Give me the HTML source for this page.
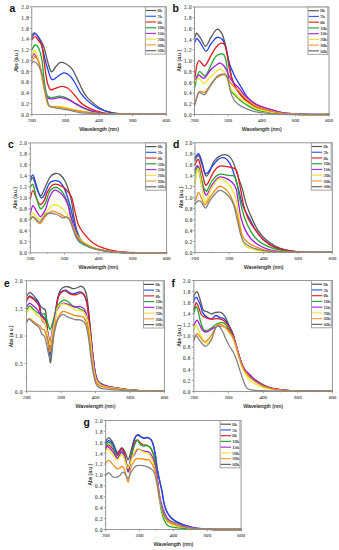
<!DOCTYPE html>
<html><head><meta charset="utf-8"><style>
html,body{margin:0;padding:0;background:#fff;width:339px;height:550px;overflow:hidden}
svg{display:block}
.tk{font-family:"Liberation Serif",serif;font-size:5.2px;fill:#4a4a4a;stroke:#4a4a4a;stroke-width:0.12px;letter-spacing:0.5px}
.tx{font-family:"Liberation Serif",serif;font-size:5.0px;fill:#4a4a4a;stroke:#4a4a4a;stroke-width:0.1px;letter-spacing:0.1px}
.al{font-family:"Liberation Sans",sans-serif;font-size:5.25px;fill:#222;stroke:#222;stroke-width:0.12px}
.yl{font-family:"Liberation Sans",sans-serif;font-size:5.0px;fill:#222;stroke:#222;stroke-width:0.1px}
.lt{font-family:"Liberation Sans",sans-serif;font-size:10.4px;font-weight:bold;fill:#111}
.lg{font-family:"Liberation Serif",serif;font-size:4.7px;fill:#333;stroke:#333;stroke-width:0.1px;letter-spacing:-0.15px}
</style></head><body>
<svg width="339" height="550" viewBox="0 0 339 550">
<g fill="none" stroke-width="1.3" stroke-linejoin="round" stroke-linecap="round">
<path d="M31.80,35.85 C32.19,35.31 33.20,32.62 34.15,32.62 C35.11,32.62 36.40,34.51 37.52,35.85 C38.64,37.20 39.87,38.99 40.88,40.69 C41.89,42.40 42.73,43.79 43.57,46.07 C44.41,48.36 45.14,51.45 45.92,54.41 C46.71,57.37 47.49,61.09 48.28,63.83 C49.06,66.56 49.90,69.57 50.63,70.82 C51.36,72.08 51.81,72.03 52.65,71.36 C53.49,70.69 54.38,68.27 55.67,66.79 C56.96,65.31 58.76,63.02 60.38,62.48 C62.01,61.95 63.46,62.44 65.42,63.56 C67.39,64.68 70.19,66.65 72.15,69.21 C74.11,71.76 75.51,75.48 77.19,78.89 C78.88,82.30 80.67,86.69 82.24,89.65 C83.81,92.61 84.76,94.40 86.61,96.65 C88.46,98.89 91.15,101.22 93.33,103.10 C95.52,104.98 97.26,106.51 99.72,107.94 C102.19,109.38 105.38,110.79 108.13,111.71 C110.87,112.63 113.23,113.08 116.20,113.49 C119.17,113.89 121.52,113.98 125.95,114.13 C130.38,114.28 136.04,114.36 142.76,114.40 C149.49,114.44 162.38,114.40 166.30,114.40" stroke="#5a5a5a"/>
<path d="M31.80,37.47 C32.36,36.84 33.93,33.43 35.16,33.70 C36.40,33.97 37.96,36.57 39.20,39.08 C40.43,41.59 41.44,44.82 42.56,48.76 C43.68,52.71 44.97,59.08 45.92,62.75 C46.88,66.43 47.49,68.31 48.28,70.82 C49.06,73.33 49.79,76.34 50.63,77.82 C51.47,79.30 52.20,79.88 53.32,79.70 C54.44,79.52 55.62,77.86 57.36,76.74 C59.09,75.62 61.67,73.15 63.74,72.97 C65.82,72.79 67.83,73.87 69.80,75.66 C71.76,77.46 73.72,80.86 75.51,83.73 C77.31,86.60 78.71,90.19 80.56,92.88 C82.41,95.57 84.48,97.81 86.61,99.87 C88.74,101.94 91.15,103.73 93.33,105.25 C95.52,106.78 97.26,107.90 99.72,109.02 C102.19,110.14 105.38,111.23 108.13,111.98 C110.87,112.72 112.67,113.12 116.20,113.49 C119.73,113.85 124.89,114.03 129.31,114.18 C133.74,114.34 136.60,114.36 142.76,114.40 C148.93,114.44 162.38,114.40 166.30,114.40" stroke="#2440f2"/>
<path d="M31.80,39.89 C32.36,39.34 33.93,36.34 35.16,36.61 C36.40,36.87 38.09,40.10 39.20,41.50 C40.30,42.90 41.06,42.44 41.79,45.00 C42.52,47.55 42.88,51.90 43.57,56.83 C44.26,61.77 45.23,70.10 45.92,74.59 C46.61,79.07 46.92,81.20 47.70,83.73 C48.49,86.27 49.47,89.01 50.63,89.81 C51.79,90.62 52.82,89.14 54.66,88.58 C56.51,88.01 59.60,86.51 61.73,86.42 C63.86,86.33 65.42,86.74 67.44,88.04 C69.46,89.34 71.65,91.80 73.83,94.23 C76.02,96.65 78.37,100.46 80.56,102.56 C82.74,104.67 84.82,105.66 86.94,106.87 C89.07,108.08 91.20,108.98 93.33,109.83 C95.46,110.68 97.26,111.37 99.72,111.98 C102.19,112.59 104.88,113.12 108.13,113.49 C111.38,113.85 114.01,114.03 119.22,114.18 C124.44,114.34 131.55,114.36 139.40,114.40 C147.25,114.44 161.82,114.40 166.30,114.40" stroke="#e01c1c"/>
<path d="M31.80,49.84 C32.36,49.03 33.99,45.22 35.16,45.00 C36.34,44.77 37.76,46.16 38.86,48.49 C39.97,50.83 41.00,54.64 41.79,58.99 C42.57,63.33 42.97,69.66 43.57,74.59 C44.17,79.52 44.78,85.08 45.38,88.58 C45.99,92.07 46.33,94.05 47.20,95.57 C48.07,97.09 49.50,97.45 50.63,97.72 C51.76,97.99 52.48,97.45 53.99,97.18 C55.51,96.91 57.75,96.02 59.71,96.11 C61.67,96.20 63.69,96.83 65.76,97.72 C67.83,98.62 69.68,100.01 72.15,101.49 C74.62,102.97 78.09,105.25 80.56,106.60 C83.02,107.94 84.82,108.71 86.94,109.56 C89.07,110.41 91.20,111.10 93.33,111.71 C95.46,112.32 97.09,112.82 99.72,113.22 C102.36,113.61 104.77,113.88 109.14,114.08 C113.51,114.27 116.42,114.35 125.95,114.40 C135.48,114.45 159.58,114.40 166.30,114.40" stroke="#20a82a"/>
<path d="M31.80,57.37 C32.14,56.79 33.15,54.05 33.82,53.88 C34.49,53.70 35.11,55.18 35.84,56.30 C36.56,57.42 37.40,58.36 38.19,60.60 C38.97,62.84 39.76,66.16 40.54,69.75 C41.33,73.33 42.11,78.26 42.90,82.12 C43.68,85.98 44.52,90.28 45.25,92.88 C45.98,95.48 46.37,96.74 47.27,97.72 C48.16,98.71 49.40,98.66 50.63,98.80 C51.86,98.93 53.15,98.71 54.66,98.53 C56.18,98.35 57.58,97.59 59.71,97.72 C61.84,97.86 65.09,98.53 67.44,99.34 C69.80,100.14 71.65,101.40 73.83,102.56 C76.02,103.73 78.37,105.25 80.56,106.33 C82.74,107.41 84.82,108.17 86.94,109.02 C89.07,109.87 91.20,110.77 93.33,111.44 C95.46,112.11 97.09,112.62 99.72,113.06 C102.36,113.49 104.77,113.85 109.14,114.08 C113.51,114.30 116.42,114.35 125.95,114.40 C135.48,114.45 159.58,114.40 166.30,114.40" stroke="#a818e0"/>
<path d="M31.80,55.76 C32.19,54.95 33.54,51.63 34.15,50.92 C34.77,50.20 34.91,50.29 35.50,51.45 C36.09,52.62 36.92,55.04 37.68,57.91 C38.45,60.78 39.32,64.90 40.11,68.67 C40.89,72.44 41.61,76.56 42.39,80.51 C43.18,84.45 44.01,88.62 44.81,92.34 C45.61,96.06 46.42,100.59 47.20,102.83 C47.98,105.07 48.58,105.21 49.49,105.79 C50.39,106.37 51.06,106.24 52.65,106.33 C54.24,106.42 56.57,106.06 59.04,106.33 C61.50,106.60 64.70,107.35 67.44,107.94 C70.19,108.54 72.26,109.16 75.51,109.88 C78.76,110.60 83.02,111.63 86.94,112.25 C90.87,112.87 94.79,113.26 99.05,113.59 C103.31,113.92 101.29,114.10 112.50,114.24 C123.71,114.37 157.33,114.37 166.30,114.40" stroke="#ece828"/>
<path d="M31.80,60.60 C32.19,60.06 33.65,58.00 34.15,57.37 C34.66,56.74 34.14,56.34 34.83,56.83 C35.52,57.33 37.31,58.36 38.29,60.33 C39.27,62.30 39.93,65.13 40.71,68.67 C41.50,72.21 42.22,77.28 43.00,81.58 C43.78,85.89 44.60,90.73 45.38,94.49 C46.17,98.26 46.89,102.16 47.70,104.18 C48.52,106.20 49.02,106.15 50.29,106.60 C51.57,107.05 53.66,106.73 55.34,106.87 C57.02,107.00 57.58,106.91 60.38,107.41 C63.18,107.90 67.72,109.02 72.15,109.83 C76.58,110.63 82.46,111.62 86.94,112.25 C91.43,112.88 94.79,113.26 99.05,113.59 C103.31,113.92 101.29,114.10 112.50,114.24 C123.71,114.37 157.33,114.37 166.30,114.40" stroke="#f58a1c"/>
<path d="M31.80,63.02 C32.10,62.80 32.64,61.45 33.62,61.68 C34.60,61.90 36.40,62.66 37.68,64.37 C38.97,66.07 40.23,68.49 41.32,71.90 C42.40,75.31 43.33,80.64 44.21,84.81 C45.09,88.98 45.81,93.51 46.59,96.92 C47.38,100.32 47.96,103.51 48.92,105.25 C49.87,107.00 50.40,106.85 52.31,107.41 C54.22,107.96 57.64,108.12 60.38,108.59 C63.13,109.06 65.71,109.57 68.79,110.20 C71.87,110.84 75.85,111.91 78.88,112.41 C81.90,112.91 83.58,112.97 86.94,113.22 C90.31,113.46 94.23,113.68 99.05,113.86 C103.87,114.04 104.65,114.20 115.86,114.29 C127.07,114.38 157.89,114.38 166.30,114.40" stroke="#828282"/>
</g>
<rect x="31.80" y="6.80" width="134.50" height="107.60" fill="none" stroke="#8a8a8a" stroke-width="0.9"/>
<line x1="29.80" y1="114.40" x2="31.80" y2="114.40" stroke="#8a8a8a" stroke-width="0.8"/>
<text x="29.30" y="116.70" class="tk" text-anchor="end">0.0</text>
<line x1="30.80" y1="109.02" x2="31.80" y2="109.02" stroke="#8a8a8a" stroke-width="0.7"/>
<line x1="29.80" y1="103.64" x2="31.80" y2="103.64" stroke="#8a8a8a" stroke-width="0.8"/>
<text x="29.30" y="105.94" class="tk" text-anchor="end">0.2</text>
<line x1="30.80" y1="98.26" x2="31.80" y2="98.26" stroke="#8a8a8a" stroke-width="0.7"/>
<line x1="29.80" y1="92.88" x2="31.80" y2="92.88" stroke="#8a8a8a" stroke-width="0.8"/>
<text x="29.30" y="95.18" class="tk" text-anchor="end">0.4</text>
<line x1="30.80" y1="87.50" x2="31.80" y2="87.50" stroke="#8a8a8a" stroke-width="0.7"/>
<line x1="29.80" y1="82.12" x2="31.80" y2="82.12" stroke="#8a8a8a" stroke-width="0.8"/>
<text x="29.30" y="84.42" class="tk" text-anchor="end">0.6</text>
<line x1="30.80" y1="76.74" x2="31.80" y2="76.74" stroke="#8a8a8a" stroke-width="0.7"/>
<line x1="29.80" y1="71.36" x2="31.80" y2="71.36" stroke="#8a8a8a" stroke-width="0.8"/>
<text x="29.30" y="73.66" class="tk" text-anchor="end">0.8</text>
<line x1="30.80" y1="65.98" x2="31.80" y2="65.98" stroke="#8a8a8a" stroke-width="0.7"/>
<line x1="29.80" y1="60.60" x2="31.80" y2="60.60" stroke="#8a8a8a" stroke-width="0.8"/>
<text x="29.30" y="62.90" class="tk" text-anchor="end">1.0</text>
<line x1="30.80" y1="55.22" x2="31.80" y2="55.22" stroke="#8a8a8a" stroke-width="0.7"/>
<line x1="29.80" y1="49.84" x2="31.80" y2="49.84" stroke="#8a8a8a" stroke-width="0.8"/>
<text x="29.30" y="52.14" class="tk" text-anchor="end">1.2</text>
<line x1="30.80" y1="44.46" x2="31.80" y2="44.46" stroke="#8a8a8a" stroke-width="0.7"/>
<line x1="29.80" y1="39.08" x2="31.80" y2="39.08" stroke="#8a8a8a" stroke-width="0.8"/>
<text x="29.30" y="41.38" class="tk" text-anchor="end">1.4</text>
<line x1="30.80" y1="33.70" x2="31.80" y2="33.70" stroke="#8a8a8a" stroke-width="0.7"/>
<line x1="29.80" y1="28.32" x2="31.80" y2="28.32" stroke="#8a8a8a" stroke-width="0.8"/>
<text x="29.30" y="30.62" class="tk" text-anchor="end">1.6</text>
<line x1="30.80" y1="22.94" x2="31.80" y2="22.94" stroke="#8a8a8a" stroke-width="0.7"/>
<line x1="29.80" y1="17.56" x2="31.80" y2="17.56" stroke="#8a8a8a" stroke-width="0.8"/>
<text x="29.30" y="19.86" class="tk" text-anchor="end">1.8</text>
<line x1="30.80" y1="12.18" x2="31.80" y2="12.18" stroke="#8a8a8a" stroke-width="0.7"/>
<line x1="29.80" y1="6.80" x2="31.80" y2="6.80" stroke="#8a8a8a" stroke-width="0.8"/>
<text x="29.30" y="9.10" class="tk" text-anchor="end">2.0</text>
<line x1="31.80" y1="114.40" x2="31.80" y2="116.20" stroke="#8a8a8a" stroke-width="0.8"/>
<text x="31.95" y="122.00" class="tx" text-anchor="middle">200</text>
<line x1="48.61" y1="114.40" x2="48.61" y2="115.40" stroke="#8a8a8a" stroke-width="0.7"/>
<line x1="65.42" y1="114.40" x2="65.42" y2="116.20" stroke="#8a8a8a" stroke-width="0.8"/>
<text x="65.58" y="122.00" class="tx" text-anchor="middle">300</text>
<line x1="82.24" y1="114.40" x2="82.24" y2="115.40" stroke="#8a8a8a" stroke-width="0.7"/>
<line x1="99.05" y1="114.40" x2="99.05" y2="116.20" stroke="#8a8a8a" stroke-width="0.8"/>
<text x="99.20" y="122.00" class="tx" text-anchor="middle">400</text>
<line x1="115.86" y1="114.40" x2="115.86" y2="115.40" stroke="#8a8a8a" stroke-width="0.7"/>
<line x1="132.68" y1="114.40" x2="132.68" y2="116.20" stroke="#8a8a8a" stroke-width="0.8"/>
<text x="132.83" y="122.00" class="tx" text-anchor="middle">500</text>
<line x1="149.49" y1="114.40" x2="149.49" y2="115.40" stroke="#8a8a8a" stroke-width="0.7"/>
<line x1="166.30" y1="114.40" x2="166.30" y2="116.20" stroke="#8a8a8a" stroke-width="0.8"/>
<text x="166.45" y="122.00" class="tx" text-anchor="middle">600</text>
<text x="99.05" y="130.90" class="al" text-anchor="middle">Wavelength (nm)</text>
<text transform="translate(18.10,61.00) rotate(-90)" class="yl" text-anchor="middle">Abs (a.u.)</text>
<text x="9.60" y="11.60" class="lt">a</text>
<rect x="145.30" y="6.90" width="19.80" height="47.20" fill="#fff" stroke="#999" stroke-width="0.9"/>
<line x1="145.70" y1="10.50" x2="156.20" y2="10.50" stroke="#555555" stroke-width="1.2"/>
<text x="157.50" y="12.20" class="lg">0h</text>
<line x1="145.70" y1="16.24" x2="156.20" y2="16.24" stroke="#3060f0" stroke-width="1.2"/>
<text x="157.50" y="17.94" class="lg">2h</text>
<line x1="145.70" y1="21.98" x2="156.20" y2="21.98" stroke="#e03030" stroke-width="1.2"/>
<text x="157.50" y="23.68" class="lg">6h</text>
<line x1="145.70" y1="27.72" x2="156.20" y2="27.72" stroke="#30a040" stroke-width="1.2"/>
<text x="157.50" y="29.42" class="lg">10h</text>
<line x1="145.70" y1="33.46" x2="156.20" y2="33.46" stroke="#b030e0" stroke-width="1.2"/>
<text x="157.50" y="35.16" class="lg">15h</text>
<line x1="145.70" y1="39.20" x2="156.20" y2="39.20" stroke="#f0e040" stroke-width="1.2"/>
<text x="157.50" y="40.90" class="lg">20h</text>
<line x1="145.70" y1="44.94" x2="156.20" y2="44.94" stroke="#f8a040" stroke-width="1.2"/>
<text x="157.50" y="46.64" class="lg">30h</text>
<line x1="145.70" y1="50.68" x2="156.20" y2="50.68" stroke="#666666" stroke-width="1.2"/>
<text x="157.50" y="52.38" class="lg">50h</text>
<g fill="none" stroke-width="1.3" stroke-linejoin="round" stroke-linecap="round">
<path d="M194.50,38.17 C194.67,37.73 195.12,36.29 195.51,35.49 C195.90,34.68 196.01,32.89 196.85,33.34 C197.69,33.79 199.10,36.02 200.55,38.17 C202.01,40.32 203.94,46.24 205.60,46.24 C207.26,46.24 208.88,40.77 210.51,38.17 C212.13,35.58 214.04,32.13 215.35,30.65 C216.66,29.17 217.25,28.77 218.37,29.31 C219.49,29.84 221.12,32.09 222.07,33.88 C223.03,35.66 223.36,37.47 224.09,40.00 C224.82,42.54 225.77,46.05 226.44,49.09 C227.12,52.12 227.56,55.20 228.12,58.22 C228.69,61.24 229.19,63.91 229.81,67.20 C230.42,70.49 230.96,74.81 231.82,77.95 C232.69,81.09 233.64,83.41 234.98,86.01 C236.33,88.61 238.18,91.30 239.89,93.54 C241.61,95.78 242.64,97.21 245.27,99.45 C247.91,101.69 251.72,105.00 255.70,106.97 C259.68,108.95 264.78,110.20 269.15,111.28 C273.52,112.35 276.43,112.89 281.93,113.42 C287.42,113.96 294.25,114.32 302.10,114.50 C309.95,114.68 324.52,114.50 329.00,114.50" stroke="#5a5a5a"/>
<path d="M194.50,43.01 C194.67,42.56 195.09,41.08 195.51,40.33 C195.92,39.57 196.15,38.05 196.99,38.50 C197.83,38.95 199.06,40.92 200.55,43.01 C202.04,45.11 204.27,50.81 205.93,51.08 C207.59,51.34 208.94,46.72 210.51,44.62 C212.07,42.53 213.98,39.72 215.35,38.50 C216.71,37.28 217.48,37.06 218.71,37.31 C219.94,37.57 221.74,38.78 222.75,40.00 C223.75,41.22 224.09,42.66 224.76,44.62 C225.44,46.59 226.05,48.76 226.78,51.77 C227.51,54.78 228.15,59.34 229.13,62.69 C230.12,66.03 231.72,69.46 232.70,71.82 C233.67,74.19 234.23,75.41 234.98,76.88 C235.74,78.34 236.07,78.76 237.20,80.64 C238.34,82.52 240.47,85.89 241.81,88.16 C243.16,90.44 243.91,92.32 245.27,94.29 C246.64,96.26 248.24,98.36 249.98,99.99 C251.72,101.62 253.74,102.91 255.70,104.07 C257.66,105.24 259.51,106.13 261.75,106.97 C263.99,107.82 266.35,108.32 269.15,109.12 C271.95,109.93 275.31,111.10 278.56,111.81 C281.81,112.53 284.73,113.02 288.65,113.42 C292.57,113.83 295.38,114.05 302.10,114.23 C308.83,114.41 324.52,114.46 329.00,114.50" stroke="#2440f2"/>
<path d="M194.50,77.95 C194.61,77.59 194.78,77.95 195.17,75.80 C195.56,73.65 196.20,67.56 196.85,65.05 C197.51,62.54 198.27,61.02 199.11,60.75 C199.95,60.48 200.90,62.59 201.90,63.44 C202.90,64.29 203.66,67.02 205.09,65.86 C206.53,64.69 208.80,59.41 210.51,56.45 C212.21,53.49 213.76,50.27 215.35,48.12 C216.94,45.97 218.68,44.31 220.06,43.55 C221.43,42.79 222.72,43.08 223.62,43.55 C224.52,44.02 224.82,44.41 225.44,46.40 C226.05,48.39 226.67,52.00 227.28,55.48 C227.90,58.97 228.38,63.52 229.13,67.31 C229.89,71.10 230.85,75.01 231.82,78.22 C232.80,81.43 233.64,83.91 234.98,86.55 C236.33,89.19 238.18,91.84 239.89,94.08 C241.61,96.31 242.64,97.80 245.27,99.99 C247.91,102.17 251.72,105.31 255.70,107.19 C259.68,109.07 264.78,110.24 269.15,111.28 C273.52,112.31 276.43,112.89 281.93,113.42 C287.42,113.96 294.25,114.32 302.10,114.50 C309.95,114.68 324.52,114.50 329.00,114.50" stroke="#e01c1c"/>
<path d="M194.50,87.62 C194.61,87.27 194.72,87.45 195.17,85.47 C195.62,83.50 196.46,78.13 197.19,75.80 C197.92,73.47 198.65,71.77 199.54,71.50 C200.44,71.23 201.56,73.47 202.57,74.19 C203.58,74.90 204.42,76.79 205.60,75.80 C206.77,74.81 208.26,71.01 209.63,68.28 C211.00,65.54 212.57,61.56 213.80,59.41 C215.03,57.26 215.99,56.26 217.03,55.37 C218.07,54.49 218.96,54.23 220.06,54.08 C221.15,53.94 222.64,53.53 223.62,54.51 C224.59,55.50 225.29,57.57 225.91,60.00 C226.52,62.43 226.83,65.90 227.28,69.08 C227.74,72.26 228.10,75.59 228.63,79.08 C229.16,82.56 229.42,87.31 230.48,89.99 C231.54,92.67 233.42,93.48 234.98,95.15 C236.55,96.82 238.18,98.50 239.89,99.99 C241.61,101.47 242.64,102.46 245.27,104.07 C247.91,105.69 251.72,108.28 255.70,109.66 C259.68,111.04 264.78,111.63 269.15,112.35 C273.52,113.07 276.43,113.60 281.93,113.96 C287.42,114.32 294.25,114.41 302.10,114.50 C309.95,114.59 324.52,114.50 329.00,114.50" stroke="#20a82a"/>
<path d="M194.50,81.17 C194.61,81.00 194.50,81.09 195.17,80.10 C195.85,79.11 197.53,75.80 198.53,75.26 C199.54,74.73 200.22,76.43 201.22,76.88 C202.23,77.32 202.93,79.23 204.59,77.95 C206.24,76.67 208.87,71.56 211.14,69.19 C213.41,66.81 216.72,64.70 218.21,63.71 C219.69,62.71 219.15,62.93 220.06,63.22 C220.96,63.52 222.55,64.35 223.62,65.48 C224.68,66.61 225.52,68.18 226.44,70.00 C227.36,71.81 227.96,74.28 229.13,76.39 C230.31,78.51 231.85,80.71 233.50,82.68 C235.16,84.65 237.13,86.03 239.09,88.22 C241.05,90.40 242.51,93.15 245.27,95.80 C248.04,98.44 251.72,101.85 255.70,104.07 C259.68,106.29 265.34,107.84 269.15,109.12 C272.96,110.41 275.31,111.10 278.56,111.81 C281.81,112.53 284.73,113.02 288.65,113.42 C292.57,113.83 295.38,114.05 302.10,114.23 C308.83,114.41 324.52,114.46 329.00,114.50" stroke="#a818e0"/>
<path d="M194.50,82.25 C194.61,82.07 194.50,81.80 195.17,81.17 C195.85,80.55 197.53,78.58 198.53,78.49 C199.54,78.40 200.22,79.83 201.22,80.64 C202.23,81.44 202.85,84.13 204.59,83.33 C206.32,82.52 209.38,78.08 211.65,75.80 C213.92,73.52 216.80,70.79 218.21,69.67 C219.61,68.55 219.15,68.79 220.06,69.08 C220.96,69.37 222.50,70.02 223.62,71.39 C224.74,72.76 225.86,75.27 226.78,77.31 C227.70,79.34 228.37,81.48 229.13,83.59 C229.90,85.71 230.41,88.33 231.39,89.99 C232.36,91.65 233.57,92.14 234.98,93.54 C236.40,94.94 238.18,97.05 239.89,98.38 C241.61,99.70 242.64,99.85 245.27,101.49 C247.91,103.13 251.72,106.49 255.70,108.21 C259.68,109.93 264.78,110.90 269.15,111.81 C273.52,112.73 276.43,113.25 281.93,113.69 C287.42,114.14 294.25,114.37 302.10,114.50 C309.95,114.63 324.52,114.50 329.00,114.50" stroke="#ece828"/>
<path d="M194.50,103.75 C194.61,103.45 194.50,103.80 195.17,101.92 C195.85,100.04 197.41,94.17 198.53,92.46 C199.66,90.75 200.80,91.75 201.90,91.66 C202.99,91.57 203.11,93.85 205.09,91.92 C207.08,90.00 211.31,82.77 213.80,80.10 C216.29,77.43 218.28,76.84 220.06,75.91 C221.83,74.98 223.22,74.28 224.43,74.51 C225.63,74.74 226.35,76.09 227.28,77.31 C228.21,78.52 228.80,80.15 230.01,81.82 C231.21,83.49 233.15,85.89 234.51,87.30 C235.88,88.72 236.42,88.56 238.21,90.31 C240.01,92.07 242.36,95.29 245.27,97.84 C248.19,100.38 251.72,103.47 255.70,105.58 C259.68,107.68 264.78,109.21 269.15,110.47 C273.52,111.73 276.43,112.48 281.93,113.16 C287.42,113.83 294.25,114.28 302.10,114.50 C309.95,114.72 324.52,114.50 329.00,114.50" stroke="#f58a1c"/>
<path d="M194.50,105.90 C194.61,105.54 194.50,105.90 195.17,103.75 C195.85,101.60 197.41,94.70 198.53,93.00 C199.66,91.30 200.80,93.32 201.90,93.54 C202.99,93.75 203.66,95.62 205.09,94.29 C206.53,92.96 208.52,88.55 210.51,85.58 C212.49,82.62 215.44,78.34 217.03,76.50 C218.62,74.65 218.65,74.84 220.06,74.51 C221.46,74.18 224.16,73.75 225.44,74.51 C226.71,75.27 227.07,77.25 227.69,79.08 C228.30,80.91 228.72,83.66 229.13,85.47 C229.54,87.29 229.64,88.20 230.14,89.99 C230.65,91.78 231.35,94.38 232.16,96.22 C232.97,98.07 233.70,99.54 234.98,101.06 C236.27,102.59 238.18,104.17 239.89,105.36 C241.61,106.55 242.64,107.14 245.27,108.21 C247.91,109.29 251.72,110.94 255.70,111.81 C259.68,112.68 264.78,113.02 269.15,113.42 C273.52,113.83 276.43,114.05 281.93,114.23 C287.42,114.41 294.25,114.46 302.10,114.50 C309.95,114.54 324.52,114.50 329.00,114.50" stroke="#828282"/>
</g>
<rect x="194.50" y="7.00" width="134.50" height="107.50" fill="none" stroke="#8a8a8a" stroke-width="0.9"/>
<line x1="192.50" y1="114.50" x2="194.50" y2="114.50" stroke="#8a8a8a" stroke-width="0.8"/>
<text x="192.00" y="116.80" class="tk" text-anchor="end">0.0</text>
<line x1="193.50" y1="109.12" x2="194.50" y2="109.12" stroke="#8a8a8a" stroke-width="0.7"/>
<line x1="192.50" y1="103.75" x2="194.50" y2="103.75" stroke="#8a8a8a" stroke-width="0.8"/>
<text x="192.00" y="106.05" class="tk" text-anchor="end">0.2</text>
<line x1="193.50" y1="98.38" x2="194.50" y2="98.38" stroke="#8a8a8a" stroke-width="0.7"/>
<line x1="192.50" y1="93.00" x2="194.50" y2="93.00" stroke="#8a8a8a" stroke-width="0.8"/>
<text x="192.00" y="95.30" class="tk" text-anchor="end">0.4</text>
<line x1="193.50" y1="87.62" x2="194.50" y2="87.62" stroke="#8a8a8a" stroke-width="0.7"/>
<line x1="192.50" y1="82.25" x2="194.50" y2="82.25" stroke="#8a8a8a" stroke-width="0.8"/>
<text x="192.00" y="84.55" class="tk" text-anchor="end">0.6</text>
<line x1="193.50" y1="76.88" x2="194.50" y2="76.88" stroke="#8a8a8a" stroke-width="0.7"/>
<line x1="192.50" y1="71.50" x2="194.50" y2="71.50" stroke="#8a8a8a" stroke-width="0.8"/>
<text x="192.00" y="73.80" class="tk" text-anchor="end">0.8</text>
<line x1="193.50" y1="66.12" x2="194.50" y2="66.12" stroke="#8a8a8a" stroke-width="0.7"/>
<line x1="192.50" y1="60.75" x2="194.50" y2="60.75" stroke="#8a8a8a" stroke-width="0.8"/>
<text x="192.00" y="63.05" class="tk" text-anchor="end">1.0</text>
<line x1="193.50" y1="55.38" x2="194.50" y2="55.38" stroke="#8a8a8a" stroke-width="0.7"/>
<line x1="192.50" y1="50.00" x2="194.50" y2="50.00" stroke="#8a8a8a" stroke-width="0.8"/>
<text x="192.00" y="52.30" class="tk" text-anchor="end">1.2</text>
<line x1="193.50" y1="44.62" x2="194.50" y2="44.62" stroke="#8a8a8a" stroke-width="0.7"/>
<line x1="192.50" y1="39.25" x2="194.50" y2="39.25" stroke="#8a8a8a" stroke-width="0.8"/>
<text x="192.00" y="41.55" class="tk" text-anchor="end">1.4</text>
<line x1="193.50" y1="33.87" x2="194.50" y2="33.87" stroke="#8a8a8a" stroke-width="0.7"/>
<line x1="192.50" y1="28.50" x2="194.50" y2="28.50" stroke="#8a8a8a" stroke-width="0.8"/>
<text x="192.00" y="30.80" class="tk" text-anchor="end">1.6</text>
<line x1="193.50" y1="23.12" x2="194.50" y2="23.12" stroke="#8a8a8a" stroke-width="0.7"/>
<line x1="192.50" y1="17.75" x2="194.50" y2="17.75" stroke="#8a8a8a" stroke-width="0.8"/>
<text x="192.00" y="20.05" class="tk" text-anchor="end">1.8</text>
<line x1="193.50" y1="12.38" x2="194.50" y2="12.38" stroke="#8a8a8a" stroke-width="0.7"/>
<line x1="192.50" y1="7.00" x2="194.50" y2="7.00" stroke="#8a8a8a" stroke-width="0.8"/>
<text x="192.00" y="9.30" class="tk" text-anchor="end">2.0</text>
<line x1="194.50" y1="114.50" x2="194.50" y2="116.30" stroke="#8a8a8a" stroke-width="0.8"/>
<text x="194.65" y="122.10" class="tx" text-anchor="middle">200</text>
<line x1="211.31" y1="114.50" x2="211.31" y2="115.50" stroke="#8a8a8a" stroke-width="0.7"/>
<line x1="228.12" y1="114.50" x2="228.12" y2="116.30" stroke="#8a8a8a" stroke-width="0.8"/>
<text x="228.28" y="122.10" class="tx" text-anchor="middle">300</text>
<line x1="244.94" y1="114.50" x2="244.94" y2="115.50" stroke="#8a8a8a" stroke-width="0.7"/>
<line x1="261.75" y1="114.50" x2="261.75" y2="116.30" stroke="#8a8a8a" stroke-width="0.8"/>
<text x="261.90" y="122.10" class="tx" text-anchor="middle">400</text>
<line x1="278.56" y1="114.50" x2="278.56" y2="115.50" stroke="#8a8a8a" stroke-width="0.7"/>
<line x1="295.38" y1="114.50" x2="295.38" y2="116.30" stroke="#8a8a8a" stroke-width="0.8"/>
<text x="295.52" y="122.10" class="tx" text-anchor="middle">500</text>
<line x1="312.19" y1="114.50" x2="312.19" y2="115.50" stroke="#8a8a8a" stroke-width="0.7"/>
<line x1="329.00" y1="114.50" x2="329.00" y2="116.30" stroke="#8a8a8a" stroke-width="0.8"/>
<text x="329.15" y="122.10" class="tx" text-anchor="middle">600</text>
<text x="261.75" y="131.00" class="al" text-anchor="middle">Wavelength (nm)</text>
<text transform="translate(181.30,60.70) rotate(-90)" class="yl" text-anchor="middle">Abs (a.u.)</text>
<text x="172.50" y="11.50" class="lt">b</text>
<rect x="308.00" y="7.10" width="19.80" height="47.20" fill="#fff" stroke="#999" stroke-width="0.9"/>
<line x1="308.40" y1="10.70" x2="318.90" y2="10.70" stroke="#555555" stroke-width="1.2"/>
<text x="320.20" y="12.40" class="lg">0h</text>
<line x1="308.40" y1="16.44" x2="318.90" y2="16.44" stroke="#3060f0" stroke-width="1.2"/>
<text x="320.20" y="18.14" class="lg">2h</text>
<line x1="308.40" y1="22.18" x2="318.90" y2="22.18" stroke="#e03030" stroke-width="1.2"/>
<text x="320.20" y="23.88" class="lg">6h</text>
<line x1="308.40" y1="27.92" x2="318.90" y2="27.92" stroke="#30a040" stroke-width="1.2"/>
<text x="320.20" y="29.62" class="lg">10h</text>
<line x1="308.40" y1="33.66" x2="318.90" y2="33.66" stroke="#b030e0" stroke-width="1.2"/>
<text x="320.20" y="35.36" class="lg">15h</text>
<line x1="308.40" y1="39.40" x2="318.90" y2="39.40" stroke="#f0e040" stroke-width="1.2"/>
<text x="320.20" y="41.10" class="lg">20h</text>
<line x1="308.40" y1="45.14" x2="318.90" y2="45.14" stroke="#f8a040" stroke-width="1.2"/>
<text x="320.20" y="46.84" class="lg">30h</text>
<line x1="308.40" y1="50.88" x2="318.90" y2="50.88" stroke="#666666" stroke-width="1.2"/>
<text x="320.20" y="52.58" class="lg">50h</text>
<g fill="none" stroke-width="1.3" stroke-linejoin="round" stroke-linecap="round">
<path d="M30.30,181.37 C30.69,180.73 31.94,177.57 32.62,177.57 C33.30,177.57 33.71,179.52 34.39,181.37 C35.07,183.21 35.77,186.33 36.71,188.62 C37.64,190.91 39.15,194.11 40.01,195.10 C40.87,196.09 40.97,196.00 41.89,194.55 C42.80,193.11 44.08,189.42 45.50,186.42 C46.92,183.42 48.76,178.68 50.40,176.53 C52.05,174.38 53.73,173.78 55.38,173.51 C57.03,173.23 58.63,173.55 60.29,174.88 C61.94,176.21 63.76,178.45 65.30,181.47 C66.83,184.50 68.39,189.42 69.49,193.01 C70.58,196.60 71.13,199.00 71.87,203.02 C72.61,207.03 73.12,212.63 73.92,217.08 C74.71,221.53 75.68,226.24 76.64,229.72 C77.61,233.20 78.35,235.63 79.71,237.96 C81.07,240.30 82.61,242.08 84.82,243.73 C87.03,245.38 89.99,246.76 93.00,247.85 C96.01,248.95 99.30,249.64 102.88,250.33 C106.46,251.01 109.52,251.56 114.47,251.98 C119.41,252.39 123.84,252.66 132.52,252.80 C141.21,252.94 160.92,252.80 166.60,252.80" stroke="#5a5a5a"/>
<path d="M30.30,178.67 C30.73,178.04 32.15,174.71 32.89,174.88 C33.63,175.05 34.09,177.79 34.73,179.72 C35.37,181.64 36.02,184.13 36.71,186.42 C37.39,188.71 38.09,191.55 38.82,193.45 C39.55,195.36 40.25,197.48 41.10,197.85 C41.95,198.22 42.52,198.11 43.93,195.65 C45.34,193.20 47.68,185.63 49.59,183.12 C51.49,180.61 53.60,180.73 55.38,180.60 C57.16,180.46 58.76,180.92 60.29,182.30 C61.81,183.68 63.26,186.27 64.51,188.89 C65.76,191.51 66.69,194.56 67.78,198.01 C68.88,201.47 70.18,205.97 71.09,209.61 C72.00,213.25 72.31,216.11 73.23,219.83 C74.16,223.55 75.56,228.81 76.64,231.92 C77.72,235.03 78.35,236.54 79.71,238.51 C81.07,240.48 82.61,242.18 84.82,243.73 C87.03,245.29 89.99,246.76 93.00,247.85 C96.01,248.95 99.30,249.64 102.88,250.33 C106.46,251.01 109.52,251.56 114.47,251.98 C119.41,252.39 123.84,252.66 132.52,252.80 C141.21,252.94 160.92,252.80 166.60,252.80" stroke="#2440f2"/>
<path d="M30.30,198.95 C30.73,197.58 31.82,190.71 32.89,190.71 C33.96,190.71 35.52,196.66 36.71,198.95 C37.89,201.24 38.73,204.26 40.01,204.44 C41.29,204.63 43.21,202.06 44.41,200.05 C45.61,198.03 45.79,194.89 47.20,192.36 C48.62,189.82 50.98,186.08 52.89,184.83 C54.81,183.57 56.75,184.29 58.68,184.83 C60.62,185.37 62.71,186.56 64.51,188.07 C66.31,189.58 68.26,192.26 69.49,193.89 C70.71,195.52 71.05,195.36 71.87,197.85 C72.69,200.34 73.31,204.35 74.39,208.84 C75.47,213.33 76.61,220.47 78.35,224.78 C80.08,229.08 82.38,231.64 84.82,234.67 C87.26,237.69 89.99,240.71 93.00,242.91 C96.01,245.11 99.30,246.54 102.88,247.85 C106.46,249.16 110.66,250.03 114.47,250.77 C118.27,251.50 121.00,251.91 125.71,252.25 C130.42,252.59 135.93,252.71 142.75,252.80 C149.56,252.89 162.62,252.80 166.60,252.80" stroke="#e01c1c"/>
<path d="M30.30,187.52 C30.69,186.97 31.94,183.97 32.62,184.22 C33.30,184.48 33.71,186.70 34.39,189.06 C35.07,191.42 35.68,195.10 36.71,198.40 C37.73,201.70 39.06,208.11 40.52,208.84 C41.99,209.57 43.99,205.70 45.50,202.80 C47.01,199.89 47.94,194.00 49.59,191.42 C51.23,188.84 53.60,187.58 55.38,187.30 C57.16,187.02 58.76,188.35 60.29,189.72 C61.81,191.08 63.13,192.87 64.51,195.49 C65.90,198.11 67.57,202.02 68.60,205.43 C69.63,208.85 69.91,212.49 70.68,215.98 C71.45,219.48 72.20,222.76 73.23,226.42 C74.27,230.09 75.84,235.31 76.91,237.96 C77.99,240.62 78.39,241.17 79.71,242.36 C81.03,243.55 82.61,244.10 84.82,245.11 C87.03,246.11 89.99,247.49 93.00,248.40 C96.01,249.32 99.30,249.98 102.88,250.60 C106.46,251.22 109.52,251.77 114.47,252.14 C119.41,252.51 123.84,252.69 132.52,252.80 C141.21,252.91 160.92,252.80 166.60,252.80" stroke="#20a82a"/>
<path d="M30.30,213.79 C30.73,212.41 31.82,205.91 32.89,205.54 C33.96,205.18 35.43,209.76 36.71,211.59 C37.98,213.42 39.06,216.90 40.52,216.53 C41.99,216.17 44.12,212.32 45.50,209.39 C46.88,206.46 47.42,202.08 48.80,198.95 C50.19,195.82 52.16,191.81 53.81,190.60 C55.46,189.39 57.04,190.74 58.68,191.70 C60.33,192.65 62.18,194.16 63.69,196.31 C65.21,198.46 66.76,201.79 67.78,204.61 C68.80,207.43 68.92,209.78 69.83,213.24 C70.74,216.69 72.10,221.66 73.23,225.33 C74.37,228.99 75.56,232.65 76.64,235.22 C77.72,237.78 78.35,239.25 79.71,240.71 C81.07,242.18 82.61,242.82 84.82,244.01 C87.03,245.20 89.99,246.80 93.00,247.85 C96.01,248.91 99.30,249.64 102.88,250.33 C106.46,251.01 109.52,251.56 114.47,251.98 C119.41,252.39 123.84,252.66 132.52,252.80 C141.21,252.94 160.92,252.80 166.60,252.80" stroke="#a818e0"/>
<path d="M30.30,216.92 C30.73,216.29 31.82,213.13 32.89,213.13 C33.96,213.13 35.43,215.82 36.71,216.92 C37.98,218.02 39.06,220.33 40.52,219.72 C41.99,219.11 43.57,215.62 45.50,213.24 C47.43,210.85 50.04,206.73 52.11,205.43 C54.18,204.13 55.97,204.74 57.90,205.43 C59.83,206.13 61.91,207.81 63.69,209.61 C65.48,211.40 67.08,213.46 68.60,216.20 C70.12,218.95 71.54,223.21 72.79,226.09 C74.04,228.98 74.86,231.31 76.10,233.51 C77.33,235.71 78.73,237.72 80.19,239.28 C81.64,240.85 82.68,241.57 84.82,242.91 C86.96,244.25 89.99,246.11 93.00,247.31 C96.01,248.50 99.30,249.30 102.88,250.05 C106.46,250.80 109.52,251.35 114.47,251.81 C119.41,252.27 123.84,252.64 132.52,252.80 C141.21,252.96 160.92,252.80 166.60,252.80" stroke="#ece828"/>
<path d="M30.30,220.21 C30.73,219.69 31.82,216.96 32.89,217.08 C33.96,217.20 35.43,219.86 36.71,220.93 C37.98,222.00 39.06,224.30 40.52,223.51 C41.99,222.72 43.57,218.25 45.50,216.20 C47.43,214.15 50.04,211.75 52.11,211.20 C54.18,210.65 55.97,212.07 57.90,212.91 C59.83,213.74 61.91,215.25 63.69,216.20 C65.48,217.16 67.24,217.26 68.60,218.62 C69.96,219.99 70.76,222.05 71.87,224.39 C72.98,226.74 73.89,230.07 75.28,232.69 C76.66,235.31 78.60,238.27 80.19,240.11 C81.78,241.95 82.68,242.44 84.82,243.73 C86.96,245.02 89.99,246.76 93.00,247.85 C96.01,248.95 99.30,249.64 102.88,250.33 C106.46,251.01 109.52,251.56 114.47,251.98 C119.41,252.39 123.84,252.66 132.52,252.80 C141.21,252.94 160.92,252.80 166.60,252.80" stroke="#f58a1c"/>
<path d="M30.30,219.12 C30.73,218.69 31.82,216.41 32.89,216.53 C33.96,216.65 35.52,218.91 36.71,219.83 C37.89,220.75 38.55,222.92 40.01,222.03 C41.48,221.14 43.77,215.97 45.50,214.50 C47.23,213.03 48.51,213.24 50.40,213.24 C52.30,213.24 54.79,213.74 56.88,214.50 C58.96,215.26 61.22,217.38 62.91,217.80 C64.60,218.21 65.77,216.42 67.00,216.97 C68.23,217.52 69.21,218.76 70.30,221.09 C71.40,223.43 72.47,228.08 73.58,230.98 C74.68,233.89 75.53,236.58 76.91,238.51 C78.30,240.45 80.00,241.30 81.89,242.58 C83.78,243.86 86.04,245.14 88.23,246.21 C90.42,247.27 92.60,248.22 95.04,248.95 C97.48,249.69 99.64,250.07 102.88,250.60 C106.12,251.13 109.52,251.77 114.47,252.14 C119.41,252.51 123.84,252.69 132.52,252.80 C141.21,252.91 160.92,252.80 166.60,252.80" stroke="#828282"/>
</g>
<rect x="30.30" y="142.90" width="136.30" height="109.90" fill="none" stroke="#8a8a8a" stroke-width="0.9"/>
<line x1="28.30" y1="252.80" x2="30.30" y2="252.80" stroke="#8a8a8a" stroke-width="0.8"/>
<text x="27.40" y="255.10" class="tk" text-anchor="end">0.0</text>
<line x1="29.30" y1="247.31" x2="30.30" y2="247.31" stroke="#8a8a8a" stroke-width="0.7"/>
<line x1="28.30" y1="241.81" x2="30.30" y2="241.81" stroke="#8a8a8a" stroke-width="0.8"/>
<text x="27.40" y="244.11" class="tk" text-anchor="end">0.2</text>
<line x1="29.30" y1="236.31" x2="30.30" y2="236.31" stroke="#8a8a8a" stroke-width="0.7"/>
<line x1="28.30" y1="230.82" x2="30.30" y2="230.82" stroke="#8a8a8a" stroke-width="0.8"/>
<text x="27.40" y="233.12" class="tk" text-anchor="end">0.4</text>
<line x1="29.30" y1="225.32" x2="30.30" y2="225.32" stroke="#8a8a8a" stroke-width="0.7"/>
<line x1="28.30" y1="219.83" x2="30.30" y2="219.83" stroke="#8a8a8a" stroke-width="0.8"/>
<text x="27.40" y="222.13" class="tk" text-anchor="end">0.6</text>
<line x1="29.30" y1="214.34" x2="30.30" y2="214.34" stroke="#8a8a8a" stroke-width="0.7"/>
<line x1="28.30" y1="208.84" x2="30.30" y2="208.84" stroke="#8a8a8a" stroke-width="0.8"/>
<text x="27.40" y="211.14" class="tk" text-anchor="end">0.8</text>
<line x1="29.30" y1="203.34" x2="30.30" y2="203.34" stroke="#8a8a8a" stroke-width="0.7"/>
<line x1="28.30" y1="197.85" x2="30.30" y2="197.85" stroke="#8a8a8a" stroke-width="0.8"/>
<text x="27.40" y="200.15" class="tk" text-anchor="end">1.0</text>
<line x1="29.30" y1="192.36" x2="30.30" y2="192.36" stroke="#8a8a8a" stroke-width="0.7"/>
<line x1="28.30" y1="186.86" x2="30.30" y2="186.86" stroke="#8a8a8a" stroke-width="0.8"/>
<text x="27.40" y="189.16" class="tk" text-anchor="end">1.2</text>
<line x1="29.30" y1="181.37" x2="30.30" y2="181.37" stroke="#8a8a8a" stroke-width="0.7"/>
<line x1="28.30" y1="175.87" x2="30.30" y2="175.87" stroke="#8a8a8a" stroke-width="0.8"/>
<text x="27.40" y="178.17" class="tk" text-anchor="end">1.4</text>
<line x1="29.30" y1="170.38" x2="30.30" y2="170.38" stroke="#8a8a8a" stroke-width="0.7"/>
<line x1="28.30" y1="164.88" x2="30.30" y2="164.88" stroke="#8a8a8a" stroke-width="0.8"/>
<text x="27.40" y="167.18" class="tk" text-anchor="end">1.6</text>
<line x1="29.30" y1="159.38" x2="30.30" y2="159.38" stroke="#8a8a8a" stroke-width="0.7"/>
<line x1="28.30" y1="153.89" x2="30.30" y2="153.89" stroke="#8a8a8a" stroke-width="0.8"/>
<text x="27.40" y="156.19" class="tk" text-anchor="end">1.8</text>
<line x1="29.30" y1="148.39" x2="30.30" y2="148.39" stroke="#8a8a8a" stroke-width="0.7"/>
<line x1="28.30" y1="142.90" x2="30.30" y2="142.90" stroke="#8a8a8a" stroke-width="0.8"/>
<text x="27.40" y="145.20" class="tk" text-anchor="end">2.0</text>
<line x1="30.30" y1="252.80" x2="30.30" y2="254.60" stroke="#8a8a8a" stroke-width="0.8"/>
<text x="30.45" y="260.40" class="tx" text-anchor="middle">200</text>
<line x1="47.34" y1="252.80" x2="47.34" y2="253.80" stroke="#8a8a8a" stroke-width="0.7"/>
<line x1="64.38" y1="252.80" x2="64.38" y2="254.60" stroke="#8a8a8a" stroke-width="0.8"/>
<text x="64.53" y="260.40" class="tx" text-anchor="middle">300</text>
<line x1="81.41" y1="252.80" x2="81.41" y2="253.80" stroke="#8a8a8a" stroke-width="0.7"/>
<line x1="98.45" y1="252.80" x2="98.45" y2="254.60" stroke="#8a8a8a" stroke-width="0.8"/>
<text x="98.60" y="260.40" class="tx" text-anchor="middle">400</text>
<line x1="115.49" y1="252.80" x2="115.49" y2="253.80" stroke="#8a8a8a" stroke-width="0.7"/>
<line x1="132.52" y1="252.80" x2="132.52" y2="254.60" stroke="#8a8a8a" stroke-width="0.8"/>
<text x="132.67" y="260.40" class="tx" text-anchor="middle">500</text>
<line x1="149.56" y1="252.80" x2="149.56" y2="253.80" stroke="#8a8a8a" stroke-width="0.7"/>
<line x1="166.60" y1="252.80" x2="166.60" y2="254.60" stroke="#8a8a8a" stroke-width="0.8"/>
<text x="166.75" y="260.40" class="tx" text-anchor="middle">600</text>
<text x="98.45" y="269.30" class="al" text-anchor="middle">Wavelength (nm)</text>
<text transform="translate(16.50,197.80) rotate(-90)" class="yl" text-anchor="middle">Abs (a.u.)</text>
<text x="8.00" y="148.00" class="lt">c</text>
<rect x="145.60" y="143.00" width="19.80" height="47.20" fill="#fff" stroke="#999" stroke-width="0.9"/>
<line x1="146.00" y1="146.60" x2="156.50" y2="146.60" stroke="#555555" stroke-width="1.2"/>
<text x="157.80" y="148.30" class="lg">0h</text>
<line x1="146.00" y1="152.34" x2="156.50" y2="152.34" stroke="#3060f0" stroke-width="1.2"/>
<text x="157.80" y="154.04" class="lg">2h</text>
<line x1="146.00" y1="158.08" x2="156.50" y2="158.08" stroke="#e03030" stroke-width="1.2"/>
<text x="157.80" y="159.78" class="lg">6h</text>
<line x1="146.00" y1="163.82" x2="156.50" y2="163.82" stroke="#30a040" stroke-width="1.2"/>
<text x="157.80" y="165.52" class="lg">10h</text>
<line x1="146.00" y1="169.56" x2="156.50" y2="169.56" stroke="#b030e0" stroke-width="1.2"/>
<text x="157.80" y="171.26" class="lg">15h</text>
<line x1="146.00" y1="175.30" x2="156.50" y2="175.30" stroke="#f0e040" stroke-width="1.2"/>
<text x="157.80" y="177.00" class="lg">20h</text>
<line x1="146.00" y1="181.04" x2="156.50" y2="181.04" stroke="#f8a040" stroke-width="1.2"/>
<text x="157.80" y="182.74" class="lg">30h</text>
<line x1="146.00" y1="186.78" x2="156.50" y2="186.78" stroke="#666666" stroke-width="1.2"/>
<text x="157.80" y="188.48" class="lg">50h</text>
<g fill="none" stroke-width="1.3" stroke-linejoin="round" stroke-linecap="round">
<path d="M195.00,160.34 C195.11,160.13 195.09,159.90 195.69,159.08 C196.29,158.25 197.52,154.44 198.60,155.40 C199.69,156.37 201.04,161.51 202.21,164.88 C203.38,168.25 204.53,174.26 205.64,175.63 C206.76,177.00 207.54,175.44 208.90,173.10 C210.26,170.77 212.16,164.35 213.81,161.60 C215.46,158.85 217.00,157.78 218.79,156.61 C220.57,155.44 222.73,154.58 224.52,154.58 C226.30,154.58 227.98,155.18 229.50,156.61 C231.01,158.04 232.39,160.44 233.62,163.19 C234.85,165.93 235.76,169.80 236.88,173.10 C237.99,176.41 239.35,180.22 240.31,183.02 C241.26,185.83 241.68,186.59 242.61,189.93 C243.54,193.27 244.51,198.70 245.90,203.08 C247.29,207.46 249.02,211.81 250.95,216.23 C252.88,220.65 255.01,225.71 257.47,229.60 C259.93,233.49 262.68,236.81 265.71,239.58 C268.74,242.34 272.35,244.50 275.66,246.21 C278.98,247.92 281.90,248.90 285.62,249.82 C289.34,250.75 293.63,251.31 297.98,251.74 C302.32,252.17 305.98,252.29 311.71,252.40 C317.43,252.51 328.87,252.40 332.30,252.40" stroke="#5a5a5a"/>
<path d="M195.00,158.14 C195.11,157.89 195.09,157.37 195.69,156.61 C196.29,155.85 197.65,153.05 198.60,153.60 C199.55,154.14 200.37,156.78 201.38,159.90 C202.40,163.01 203.75,170.08 204.71,172.28 C205.68,174.48 205.94,174.06 207.19,173.10 C208.43,172.15 210.23,168.87 212.16,166.53 C214.10,164.19 216.73,160.52 218.79,159.08 C220.85,157.63 222.88,157.45 224.52,157.87 C226.16,158.29 227.39,159.88 228.64,161.60 C229.89,163.31 230.89,165.42 232.00,168.17 C233.11,170.92 234.20,174.52 235.30,178.09 C236.40,181.66 237.49,185.46 238.59,189.60 C239.69,193.74 240.80,199.39 241.89,202.92 C242.97,206.44 243.78,207.98 245.11,210.75 C246.45,213.52 248.15,216.23 249.92,219.52 C251.69,222.81 253.41,227.01 255.76,230.48 C258.10,233.95 260.96,237.60 263.99,240.34 C267.03,243.08 270.34,245.28 273.95,246.92 C277.55,248.56 281.61,249.39 285.62,250.21 C289.62,251.03 293.63,251.49 297.98,251.85 C302.32,252.22 305.98,252.31 311.71,252.40 C317.43,252.49 328.87,252.40 332.30,252.40" stroke="#2440f2"/>
<path d="M195.00,164.72 C195.11,164.46 195.09,163.99 195.69,163.19 C196.29,162.38 197.52,158.24 198.60,159.90 C199.69,161.55 201.11,169.01 202.21,173.10 C203.31,177.20 204.22,182.79 205.19,184.45 C206.17,186.10 206.61,185.18 208.04,183.02 C209.48,180.87 211.88,174.32 213.81,171.52 C215.74,168.71 217.41,167.03 219.61,166.20 C221.81,165.37 224.66,166.20 226.99,166.53 C229.33,166.86 231.97,167.34 233.62,168.17 C235.26,169.00 235.91,169.04 236.88,171.52 C237.84,173.99 238.58,178.89 239.42,183.02 C240.25,187.15 241.19,192.58 241.89,196.28 C242.59,199.99 242.95,202.59 243.60,205.27 C244.26,207.96 244.86,209.84 245.80,212.40 C246.74,214.95 247.57,217.60 249.23,220.62 C250.89,223.63 253.30,227.19 255.76,230.48 C258.22,233.77 260.96,237.60 263.99,240.34 C267.03,243.08 270.34,245.28 273.95,246.92 C277.55,248.56 281.61,249.39 285.62,250.21 C289.62,251.03 293.63,251.49 297.98,251.85 C302.32,252.22 305.98,252.31 311.71,252.40 C317.43,252.49 328.87,252.40 332.30,252.40" stroke="#e01c1c"/>
<path d="M195.00,173.49 C195.11,173.16 195.09,172.68 195.69,171.52 C196.29,170.36 197.65,165.43 198.60,166.53 C199.55,167.62 200.50,174.51 201.38,178.09 C202.27,181.67 203.10,185.85 203.92,188.01 C204.75,190.17 205.78,190.61 206.33,191.02 C206.87,191.44 206.21,192.21 207.19,190.48 C208.16,188.74 210.23,183.29 212.16,180.61 C214.10,177.94 216.58,175.39 218.79,174.42 C221.00,173.45 223.50,174.60 225.41,174.80 C227.33,175.00 228.78,175.36 230.29,175.63 C231.80,175.89 233.38,175.16 234.47,176.39 C235.57,177.63 236.08,179.67 236.88,183.02 C237.68,186.38 238.32,191.75 239.28,196.50 C240.23,201.25 241.24,206.77 242.61,211.52 C243.98,216.27 245.58,220.84 247.52,225.00 C249.45,229.16 251.75,233.40 254.21,236.51 C256.67,239.61 258.99,241.62 262.28,243.63 C265.57,245.64 269.71,247.29 273.95,248.56 C278.18,249.84 282.53,250.66 287.68,251.30 C292.83,251.94 297.40,252.22 304.84,252.40 C312.28,252.58 327.72,252.40 332.30,252.40" stroke="#20a82a"/>
<path d="M195.00,170.20 C195.11,169.86 195.17,168.78 195.69,168.17 C196.20,167.56 197.14,164.05 198.09,166.53 C199.04,169.00 200.28,178.63 201.38,183.02 C202.49,187.42 203.75,190.96 204.71,192.89 C205.68,194.81 205.94,195.95 207.19,194.59 C208.43,193.23 210.23,187.61 212.16,184.72 C214.10,181.84 216.58,178.37 218.79,177.27 C221.00,176.16 223.21,177.27 225.41,178.09 C227.61,178.91 230.22,180.41 232.00,182.20 C233.78,183.99 235.01,185.35 236.09,188.83 C237.17,192.31 237.67,198.24 238.49,203.08 C239.31,207.92 239.89,213.46 241.00,217.88 C242.10,222.30 243.46,226.13 245.11,229.60 C246.77,233.07 248.62,236.09 250.95,238.70 C253.28,241.31 256.11,243.45 259.08,245.28 C262.06,247.10 265.18,248.61 268.80,249.66 C272.42,250.71 275.95,251.12 280.81,251.58 C285.68,252.03 289.39,252.26 297.98,252.40 C306.56,252.54 326.58,252.40 332.30,252.40" stroke="#a818e0"/>
<path d="M195.00,183.90 C195.11,183.44 195.17,183.78 195.69,181.16 C196.20,178.54 197.14,167.86 198.09,168.17 C199.04,168.48 200.41,177.94 201.38,183.02 C202.36,188.11 203.10,195.63 203.92,198.70 C204.75,201.76 205.24,202.90 206.33,201.44 C207.41,199.97 209.20,192.67 210.45,189.93 C211.69,187.19 212.42,186.83 213.81,185.00 C215.20,183.16 217.00,179.64 218.79,178.91 C220.57,178.18 222.60,179.38 224.52,180.61 C226.44,181.85 228.80,184.30 230.29,186.31 C231.77,188.32 232.48,190.42 233.44,192.67 C234.41,194.91 235.23,196.14 236.09,199.79 C236.95,203.45 237.77,209.62 238.59,214.59 C239.41,219.56 240.19,224.95 241.00,229.60 C241.80,234.26 242.48,239.65 243.40,242.54 C244.31,245.42 245.51,246.01 246.49,246.92 C247.46,247.83 247.13,247.38 249.23,248.02 C251.33,248.66 255.54,250.10 259.08,250.76 C262.63,251.41 266.32,251.69 270.51,251.96 C274.71,252.24 273.95,252.33 284.25,252.40 C294.54,252.47 324.29,252.40 332.30,252.40" stroke="#ece828"/>
<path d="M195.00,200.89 C195.11,200.71 195.09,201.21 195.69,199.79 C196.29,198.38 197.65,192.67 198.60,192.39 C199.55,192.12 200.29,196.09 201.38,198.15 C202.48,200.20 203.68,205.00 205.19,204.72 C206.70,204.45 208.18,199.52 210.45,196.50 C212.71,193.49 216.44,188.01 218.79,186.64 C221.13,185.27 222.73,187.06 224.52,188.28 C226.30,189.51 227.98,191.52 229.50,193.98 C231.01,196.45 232.39,199.92 233.62,203.08 C234.85,206.24 235.91,209.29 236.88,212.94 C237.84,216.60 238.46,221.11 239.42,225.00 C240.37,228.89 240.97,233.18 242.61,236.29 C244.24,239.39 246.49,241.68 249.23,243.63 C251.98,245.59 255.82,246.83 259.08,248.02 C262.35,249.20 265.18,250.10 268.80,250.76 C272.42,251.41 275.95,251.69 280.81,251.96 C285.68,252.24 289.39,252.33 297.98,252.40 C306.56,252.47 326.58,252.40 332.30,252.40" stroke="#f58a1c"/>
<path d="M195.00,204.18 C195.11,203.99 195.17,203.63 195.69,203.08 C196.20,202.53 197.14,201.07 198.09,200.89 C199.04,200.71 200.13,200.80 201.38,201.98 C202.64,203.17 204.13,208.38 205.64,208.01 C207.15,207.65 208.26,202.68 210.45,199.79 C212.64,196.91 216.44,191.93 218.79,190.70 C221.13,189.46 222.73,191.29 224.52,192.39 C226.30,193.50 227.98,195.27 229.50,197.33 C231.01,199.38 232.39,201.21 233.62,204.72 C234.85,208.24 235.70,213.45 236.88,218.42 C238.05,223.40 239.57,230.75 240.65,234.59 C241.74,238.43 241.97,239.48 243.40,241.44 C244.83,243.40 246.62,245.00 249.23,246.37 C251.85,247.74 255.54,248.79 259.08,249.66 C262.63,250.53 266.32,251.12 270.51,251.58 C274.71,252.03 273.95,252.26 284.25,252.40 C294.54,252.54 324.29,252.40 332.30,252.40" stroke="#828282"/>
</g>
<rect x="195.00" y="142.80" width="137.30" height="109.60" fill="none" stroke="#8a8a8a" stroke-width="0.9"/>
<line x1="193.00" y1="252.40" x2="195.00" y2="252.40" stroke="#8a8a8a" stroke-width="0.8"/>
<text x="192.90" y="254.70" class="tk" text-anchor="end">0.0</text>
<line x1="194.00" y1="246.92" x2="195.00" y2="246.92" stroke="#8a8a8a" stroke-width="0.7"/>
<line x1="193.00" y1="241.44" x2="195.00" y2="241.44" stroke="#8a8a8a" stroke-width="0.8"/>
<text x="192.90" y="243.74" class="tk" text-anchor="end">0.2</text>
<line x1="194.00" y1="235.96" x2="195.00" y2="235.96" stroke="#8a8a8a" stroke-width="0.7"/>
<line x1="193.00" y1="230.48" x2="195.00" y2="230.48" stroke="#8a8a8a" stroke-width="0.8"/>
<text x="192.90" y="232.78" class="tk" text-anchor="end">0.4</text>
<line x1="194.00" y1="225.00" x2="195.00" y2="225.00" stroke="#8a8a8a" stroke-width="0.7"/>
<line x1="193.00" y1="219.52" x2="195.00" y2="219.52" stroke="#8a8a8a" stroke-width="0.8"/>
<text x="192.90" y="221.82" class="tk" text-anchor="end">0.6</text>
<line x1="194.00" y1="214.04" x2="195.00" y2="214.04" stroke="#8a8a8a" stroke-width="0.7"/>
<line x1="193.00" y1="208.56" x2="195.00" y2="208.56" stroke="#8a8a8a" stroke-width="0.8"/>
<text x="192.90" y="210.86" class="tk" text-anchor="end">0.8</text>
<line x1="194.00" y1="203.08" x2="195.00" y2="203.08" stroke="#8a8a8a" stroke-width="0.7"/>
<line x1="193.00" y1="197.60" x2="195.00" y2="197.60" stroke="#8a8a8a" stroke-width="0.8"/>
<text x="192.90" y="199.90" class="tk" text-anchor="end">1.0</text>
<line x1="194.00" y1="192.12" x2="195.00" y2="192.12" stroke="#8a8a8a" stroke-width="0.7"/>
<line x1="193.00" y1="186.64" x2="195.00" y2="186.64" stroke="#8a8a8a" stroke-width="0.8"/>
<text x="192.90" y="188.94" class="tk" text-anchor="end">1.2</text>
<line x1="194.00" y1="181.16" x2="195.00" y2="181.16" stroke="#8a8a8a" stroke-width="0.7"/>
<line x1="193.00" y1="175.68" x2="195.00" y2="175.68" stroke="#8a8a8a" stroke-width="0.8"/>
<text x="192.90" y="177.98" class="tk" text-anchor="end">1.4</text>
<line x1="194.00" y1="170.20" x2="195.00" y2="170.20" stroke="#8a8a8a" stroke-width="0.7"/>
<line x1="193.00" y1="164.72" x2="195.00" y2="164.72" stroke="#8a8a8a" stroke-width="0.8"/>
<text x="192.90" y="167.02" class="tk" text-anchor="end">1.6</text>
<line x1="194.00" y1="159.24" x2="195.00" y2="159.24" stroke="#8a8a8a" stroke-width="0.7"/>
<line x1="193.00" y1="153.76" x2="195.00" y2="153.76" stroke="#8a8a8a" stroke-width="0.8"/>
<text x="192.90" y="156.06" class="tk" text-anchor="end">1.8</text>
<line x1="194.00" y1="148.28" x2="195.00" y2="148.28" stroke="#8a8a8a" stroke-width="0.7"/>
<line x1="193.00" y1="142.80" x2="195.00" y2="142.80" stroke="#8a8a8a" stroke-width="0.8"/>
<text x="192.90" y="145.10" class="tk" text-anchor="end">2.0</text>
<line x1="195.00" y1="252.40" x2="195.00" y2="254.20" stroke="#8a8a8a" stroke-width="0.8"/>
<text x="195.15" y="260.00" class="tx" text-anchor="middle">200</text>
<line x1="212.16" y1="252.40" x2="212.16" y2="253.40" stroke="#8a8a8a" stroke-width="0.7"/>
<line x1="229.32" y1="252.40" x2="229.32" y2="254.20" stroke="#8a8a8a" stroke-width="0.8"/>
<text x="229.47" y="260.00" class="tx" text-anchor="middle">300</text>
<line x1="246.49" y1="252.40" x2="246.49" y2="253.40" stroke="#8a8a8a" stroke-width="0.7"/>
<line x1="263.65" y1="252.40" x2="263.65" y2="254.20" stroke="#8a8a8a" stroke-width="0.8"/>
<text x="263.80" y="260.00" class="tx" text-anchor="middle">400</text>
<line x1="280.81" y1="252.40" x2="280.81" y2="253.40" stroke="#8a8a8a" stroke-width="0.7"/>
<line x1="297.98" y1="252.40" x2="297.98" y2="254.20" stroke="#8a8a8a" stroke-width="0.8"/>
<text x="298.12" y="260.00" class="tx" text-anchor="middle">500</text>
<line x1="315.14" y1="252.40" x2="315.14" y2="253.40" stroke="#8a8a8a" stroke-width="0.7"/>
<line x1="332.30" y1="252.40" x2="332.30" y2="254.20" stroke="#8a8a8a" stroke-width="0.8"/>
<text x="332.45" y="260.00" class="tx" text-anchor="middle">600</text>
<text x="263.65" y="268.90" class="al" text-anchor="middle">Wavelength (nm)</text>
<text transform="translate(182.60,197.50) rotate(-90)" class="yl" text-anchor="middle">Abs (a.u.)</text>
<text x="173.00" y="148.00" class="lt">d</text>
<rect x="311.30" y="142.90" width="19.80" height="47.20" fill="#fff" stroke="#999" stroke-width="0.9"/>
<line x1="311.70" y1="146.50" x2="322.20" y2="146.50" stroke="#555555" stroke-width="1.2"/>
<text x="323.50" y="148.20" class="lg">0h</text>
<line x1="311.70" y1="152.24" x2="322.20" y2="152.24" stroke="#3060f0" stroke-width="1.2"/>
<text x="323.50" y="153.94" class="lg">2h</text>
<line x1="311.70" y1="157.98" x2="322.20" y2="157.98" stroke="#e03030" stroke-width="1.2"/>
<text x="323.50" y="159.68" class="lg">6h</text>
<line x1="311.70" y1="163.72" x2="322.20" y2="163.72" stroke="#30a040" stroke-width="1.2"/>
<text x="323.50" y="165.42" class="lg">10h</text>
<line x1="311.70" y1="169.46" x2="322.20" y2="169.46" stroke="#b030e0" stroke-width="1.2"/>
<text x="323.50" y="171.16" class="lg">15h</text>
<line x1="311.70" y1="175.20" x2="322.20" y2="175.20" stroke="#f0e040" stroke-width="1.2"/>
<text x="323.50" y="176.90" class="lg">20h</text>
<line x1="311.70" y1="180.94" x2="322.20" y2="180.94" stroke="#f8a040" stroke-width="1.2"/>
<text x="323.50" y="182.64" class="lg">30h</text>
<line x1="311.70" y1="186.68" x2="322.20" y2="186.68" stroke="#666666" stroke-width="1.2"/>
<text x="323.50" y="188.38" class="lg">50h</text>
<g fill="none" stroke-width="1.3" stroke-linejoin="round" stroke-linecap="round">
<path d="M26.60,296.18 C26.71,295.99 26.71,295.67 27.29,295.02 C27.86,294.38 28.90,292.08 30.05,292.31 C31.19,292.54 32.89,294.98 34.18,296.41 C35.47,297.83 36.66,299.15 37.80,300.88 C38.93,302.62 39.94,305.43 41.00,306.80 C42.06,308.17 43.45,308.59 44.17,309.12 C44.89,309.66 44.90,308.29 45.31,310.01 C45.71,311.72 46.14,314.86 46.58,319.41 C47.02,323.96 47.53,331.80 47.96,337.33 C48.39,342.86 48.79,348.41 49.16,352.59 C49.54,356.77 49.88,361.33 50.20,362.43 C50.51,363.54 50.80,360.68 51.06,359.23 C51.32,357.77 51.46,356.46 51.75,353.70 C52.04,350.93 52.41,346.29 52.78,342.64 C53.16,338.99 53.53,336.16 53.99,331.80 C54.45,327.44 54.99,321.49 55.54,316.48 C56.08,311.47 56.57,305.86 57.26,301.71 C57.95,297.57 58.71,293.96 59.67,291.59 C60.63,289.23 61.64,288.31 63.01,287.50 C64.39,286.69 66.29,286.54 67.94,286.73 C69.59,286.91 71.24,288.48 72.90,288.61 C74.57,288.74 76.63,287.90 77.93,287.50 C79.23,287.11 79.65,286.10 80.69,286.23 C81.72,286.36 83.16,286.83 84.13,288.28 C85.11,289.72 85.87,291.87 86.54,294.91 C87.22,297.95 87.64,301.84 88.20,306.53 C88.75,311.21 89.33,317.26 89.88,323.00 C90.44,328.75 90.95,334.94 91.50,340.98 C92.06,347.01 92.64,354.16 93.19,359.23 C93.74,364.30 94.25,368.07 94.81,371.39 C95.37,374.71 95.84,377.11 96.53,379.13 C97.22,381.16 97.85,382.45 98.94,383.56 C100.04,384.66 101.01,385.08 103.08,385.77 C105.15,386.46 108.30,387.15 111.35,387.71 C114.39,388.26 118.18,388.69 121.34,389.09 C124.50,389.48 126.56,389.76 130.29,390.08 C134.03,390.41 138.05,390.82 143.73,391.02 C149.41,391.23 160.96,391.25 164.40,391.30" stroke="#5a5a5a"/>
<path d="M26.60,300.61 C26.71,300.33 26.78,299.73 27.29,298.95 C27.79,298.17 28.63,296.00 29.63,295.91 C30.63,295.82 31.92,297.41 33.28,298.40 C34.64,299.38 36.73,300.53 37.80,301.82 C38.86,303.11 39.20,304.41 39.69,306.14 C40.18,307.87 40.32,310.65 40.72,312.22 C41.13,313.79 41.53,314.62 42.10,315.54 C42.68,316.46 43.60,317.11 44.17,317.75 C44.74,318.40 45.09,317.75 45.55,319.41 C46.01,321.07 46.52,324.48 46.93,327.70 C47.33,330.93 47.60,335.54 47.96,338.76 C48.32,341.99 48.72,344.41 49.10,347.06 C49.47,349.71 49.76,355.61 50.20,354.69 C50.64,353.77 51.26,345.57 51.75,341.53 C52.24,337.49 52.63,334.62 53.13,330.47 C53.62,326.32 53.91,322.17 54.71,316.64 C55.52,311.12 56.85,301.44 57.95,297.29 C59.05,293.14 60.03,292.96 61.29,291.76 C62.55,290.56 64.28,290.01 65.53,290.10 C66.78,290.19 67.57,291.67 68.80,292.31 C70.03,292.96 71.03,294.04 72.90,293.97 C74.77,293.91 78.26,291.91 80.00,291.93 C81.73,291.94 82.21,292.49 83.30,294.08 C84.40,295.68 85.60,297.50 86.54,301.49 C87.48,305.48 88.15,311.45 88.95,318.03 C89.76,324.61 90.66,334.29 91.37,340.98 C92.07,347.66 92.62,353.14 93.19,358.12 C93.77,363.10 94.25,367.38 94.81,370.84 C95.37,374.30 95.84,376.83 96.53,378.86 C97.22,380.89 97.85,381.90 98.94,383.00 C100.04,384.11 101.01,384.76 103.08,385.49 C105.15,386.23 108.30,386.88 111.35,387.43 C114.39,387.98 118.18,388.40 121.34,388.81 C124.50,389.23 126.56,389.56 130.29,389.92 C134.03,390.28 138.05,390.74 143.73,390.97 C149.41,391.20 160.96,391.24 164.40,391.30" stroke="#2440f2"/>
<path d="M26.60,301.16 C26.71,300.82 26.78,299.85 27.29,299.11 C27.79,298.38 28.63,296.74 29.63,296.74 C30.63,296.74 32.07,298.10 33.28,299.11 C34.50,300.13 35.95,301.60 36.94,302.82 C37.92,304.04 38.61,304.62 39.21,306.41 C39.81,308.21 40.07,311.94 40.52,313.60 C40.97,315.27 41.29,315.47 41.90,316.42 C42.50,317.37 43.56,318.53 44.17,319.30 C44.78,320.07 45.09,319.70 45.55,321.07 C46.01,322.43 46.52,325.27 46.93,327.48 C47.33,329.70 47.60,332.17 47.96,334.34 C48.32,336.52 48.72,338.60 49.10,340.53 C49.47,342.47 49.76,346.86 50.20,345.95 C50.64,345.05 51.26,338.34 51.75,335.12 C52.24,331.89 52.67,329.34 53.13,326.60 C53.59,323.86 53.70,323.42 54.50,318.69 C55.31,313.96 56.82,302.61 57.95,298.23 C59.08,293.85 60.03,293.66 61.29,292.42 C62.55,291.19 64.28,290.67 65.53,290.82 C66.78,290.97 67.57,292.63 68.80,293.31 C70.03,293.99 71.38,294.78 72.90,294.91 C74.42,295.04 76.75,294.42 77.93,294.08 C79.11,293.74 78.96,292.79 80.00,292.87 C81.03,292.94 82.98,292.87 84.13,294.52 C85.28,296.18 86.08,298.86 86.89,302.82 C87.69,306.78 88.21,311.94 88.95,318.30 C89.70,324.66 90.66,334.34 91.37,340.98 C92.07,347.61 92.62,353.14 93.19,358.12 C93.77,363.10 94.25,367.38 94.81,370.84 C95.37,374.30 95.84,376.83 96.53,378.86 C97.22,380.89 97.85,381.90 98.94,383.00 C100.04,384.11 101.01,384.76 103.08,385.49 C105.15,386.23 108.30,386.88 111.35,387.43 C114.39,387.98 118.18,388.40 121.34,388.81 C124.50,389.23 126.56,389.56 130.29,389.92 C134.03,390.28 138.05,390.74 143.73,390.97 C149.41,391.20 160.96,391.24 164.40,391.30" stroke="#e01c1c"/>
<path d="M26.60,310.01 C26.71,309.84 26.78,309.70 27.29,309.01 C27.79,308.32 28.63,305.84 29.63,305.86 C30.63,305.88 32.07,308.06 33.28,309.12 C34.50,310.19 35.73,311.45 36.94,312.28 C38.14,313.11 39.60,313.83 40.52,314.10 C41.44,314.37 41.84,313.92 42.45,313.88 C43.06,313.84 43.71,313.60 44.17,313.88 C44.63,314.16 44.83,314.71 45.20,315.54 C45.58,316.37 45.86,317.20 46.41,318.86 C46.96,320.52 47.88,323.70 48.51,325.49 C49.14,327.28 49.54,329.98 50.20,329.59 C50.85,329.19 51.72,325.46 52.44,323.12 C53.16,320.77 53.93,317.63 54.50,315.54 C55.08,313.45 55.02,312.62 55.88,310.56 C56.74,308.51 58.35,304.93 59.67,303.21 C60.99,301.48 62.43,300.51 63.81,300.22 C65.18,299.94 66.56,300.60 67.94,301.49 C69.32,302.39 70.70,304.70 72.07,305.58 C73.45,306.47 74.89,306.23 76.21,306.80 C77.53,307.37 78.62,308.20 80.00,309.01 C81.38,309.82 83.27,309.94 84.48,311.67 C85.68,313.40 86.43,315.82 87.23,319.41 C88.04,323.00 88.61,328.63 89.30,333.24 C89.99,337.84 90.72,342.73 91.37,347.06 C92.01,351.39 92.62,355.36 93.19,359.23 C93.77,363.10 94.25,367.24 94.81,370.29 C95.37,373.33 95.96,375.63 96.53,377.48 C97.11,379.32 97.17,380.15 98.26,381.35 C99.35,382.54 101.41,383.83 103.08,384.66 C104.74,385.49 105.20,385.68 108.25,386.32 C111.29,386.97 117.66,387.98 121.34,388.54 C125.01,389.09 126.56,389.25 130.29,389.64 C134.03,390.03 138.05,390.58 143.73,390.86 C149.41,391.13 160.96,391.23 164.40,391.30" stroke="#20a82a"/>
<path d="M26.60,306.69 C26.71,306.55 26.78,306.45 27.29,305.86 C27.79,305.27 28.63,303.15 29.63,303.15 C30.63,303.15 32.07,304.87 33.28,305.86 C34.50,306.86 35.98,308.06 36.94,309.12 C37.89,310.18 38.40,311.24 39.00,312.22 C39.60,313.20 40.02,313.70 40.52,314.99 C41.02,316.28 41.56,318.86 42.00,319.96 C42.44,321.07 42.62,320.98 43.14,321.62 C43.65,322.27 44.37,322.14 45.10,323.83 C45.83,325.53 46.85,329.37 47.51,331.80 C48.18,334.22 48.65,336.65 49.10,338.38 C49.54,340.11 49.76,342.92 50.20,342.19 C50.64,341.47 51.12,337.56 51.75,334.01 C52.38,330.46 53.30,324.44 53.99,320.90 C54.68,317.36 55.05,315.17 55.88,312.77 C56.72,310.38 57.79,308.12 58.98,306.53 C60.17,304.93 61.52,303.55 63.01,303.21 C64.51,302.87 66.29,303.99 67.94,304.48 C69.59,304.97 71.72,305.67 72.90,306.14 C74.08,306.61 73.82,307.23 75.00,307.30 C76.19,307.36 78.48,306.26 80.00,306.53 C81.52,306.79 83.04,307.54 84.13,308.90 C85.22,310.27 85.74,311.48 86.54,314.71 C87.35,317.94 88.15,323.05 88.95,328.26 C89.76,333.47 90.66,340.98 91.37,345.95 C92.07,350.93 92.62,354.06 93.19,358.12 C93.77,362.18 94.25,366.97 94.81,370.29 C95.37,373.60 95.84,376.00 96.53,378.03 C97.22,380.06 97.85,381.30 98.94,382.45 C100.04,383.60 101.01,384.16 103.08,384.94 C105.15,385.72 108.30,386.51 111.35,387.15 C114.39,387.80 118.18,388.35 121.34,388.81 C124.50,389.27 126.56,389.56 130.29,389.92 C134.03,390.28 138.05,390.74 143.73,390.97 C149.41,391.20 160.96,391.24 164.40,391.30" stroke="#a818e0"/>
<path d="M26.60,312.77 C26.71,312.62 26.78,312.66 27.29,311.83 C27.79,311.00 28.63,307.92 29.63,307.80 C30.63,307.68 32.07,309.92 33.28,311.12 C34.50,312.31 35.73,313.97 36.94,314.99 C38.14,316.00 39.60,316.37 40.52,317.20 C41.44,318.03 41.68,318.95 42.45,319.96 C43.21,320.98 44.26,320.94 45.10,323.28 C45.94,325.62 46.86,331.15 47.51,334.01 C48.16,336.87 48.54,338.62 48.99,340.42 C49.44,342.23 49.74,345.49 50.20,344.85 C50.66,344.20 51.12,339.87 51.75,336.55 C52.38,333.24 53.24,328.72 53.99,324.94 C54.73,321.16 55.57,316.95 56.23,313.88 C56.89,310.81 56.82,308.17 57.95,306.53 C59.08,304.88 61.35,304.14 63.01,303.98 C64.68,303.82 66.29,304.90 67.94,305.58 C69.59,306.27 71.72,307.37 72.90,308.07 C74.08,308.77 73.82,309.37 75.00,309.79 C76.19,310.20 78.42,310.06 80.00,310.56 C81.58,311.06 83.11,310.75 84.48,312.77 C85.84,314.80 87.16,318.03 88.20,322.73 C89.23,327.43 89.98,335.08 90.68,340.98 C91.38,346.88 91.83,353.24 92.40,358.12 C92.97,363.00 93.55,366.88 94.12,370.29 C94.70,373.70 95.16,376.46 95.84,378.58 C96.53,380.70 97.17,381.81 98.26,383.00 C99.35,384.20 100.21,384.99 102.39,385.77 C104.57,386.55 108.19,387.15 111.35,387.71 C114.50,388.26 118.18,388.67 121.34,389.09 C124.50,389.50 126.56,389.87 130.29,390.19 C134.03,390.52 138.05,390.84 143.73,391.02 C149.41,391.21 160.96,391.25 164.40,391.30" stroke="#ece828"/>
<path d="M26.60,321.62 C26.71,321.50 26.86,321.46 27.29,320.90 C27.72,320.35 28.18,318.24 29.18,318.30 C30.18,318.37 31.99,320.32 33.28,321.29 C34.58,322.26 35.81,323.32 36.94,324.11 C38.06,324.90 39.21,325.22 40.04,326.05 C40.86,326.88 41.21,328.50 41.90,329.09 C42.58,329.68 43.56,328.99 44.17,329.59 C44.78,330.18 45.09,331.22 45.55,332.68 C46.01,334.15 46.33,335.80 46.93,338.38 C47.52,340.96 48.55,345.98 49.10,348.17 C49.64,350.35 49.64,352.76 50.20,351.48 C50.76,350.21 51.62,344.71 52.44,340.53 C53.25,336.36 54.10,330.44 55.09,326.43 C56.08,322.42 57.08,318.99 58.40,316.48 C59.72,313.97 61.42,312.01 63.01,311.39 C64.60,310.77 66.29,312.22 67.94,312.77 C69.59,313.33 71.72,314.24 72.90,314.71 C74.08,315.18 73.82,315.36 75.00,315.59 C76.19,315.82 78.48,315.73 80.00,316.09 C81.52,316.45 82.93,316.09 84.13,317.75 C85.34,319.41 86.43,323.00 87.23,326.05 C88.04,329.09 88.38,332.04 88.95,336.00 C89.53,339.96 90.10,345.22 90.68,349.82 C91.25,354.43 91.83,359.50 92.40,363.65 C92.97,367.80 93.55,371.76 94.12,374.71 C94.70,377.66 95.16,379.69 95.84,381.35 C96.53,383.00 97.17,383.79 98.26,384.66 C99.35,385.54 100.21,386.00 102.39,386.60 C104.57,387.20 108.19,387.80 111.35,388.26 C114.50,388.72 118.18,389.02 121.34,389.36 C124.50,389.71 126.56,390.02 130.29,390.30 C134.03,390.59 138.05,390.91 143.73,391.08 C149.41,391.24 160.96,391.26 164.40,391.30" stroke="#f58a1c"/>
<path d="M26.60,322.18 C26.71,322.03 26.86,321.81 27.29,321.29 C27.72,320.77 28.18,318.84 29.18,319.08 C30.18,319.32 31.99,321.66 33.28,322.73 C34.58,323.80 35.88,324.57 36.94,325.49 C37.99,326.41 38.82,326.91 39.59,328.26 C40.35,329.60 40.75,332.28 41.52,333.57 C42.28,334.86 43.50,334.95 44.17,336.00 C44.84,337.05 45.15,338.49 45.55,339.87 C45.95,341.25 46.18,342.36 46.58,344.30 C46.98,346.23 47.53,349.46 47.96,351.48 C48.39,353.51 48.79,355.36 49.16,356.46 C49.54,357.57 49.83,358.77 50.20,358.12 C50.57,357.47 50.97,355.17 51.40,352.59 C51.83,350.01 52.21,346.32 52.78,342.64 C53.36,338.95 53.99,334.34 54.85,330.47 C55.71,326.60 56.59,322.08 57.95,319.41 C59.31,316.74 61.35,314.80 63.01,314.43 C64.68,314.06 66.29,316.46 67.94,317.20 C69.59,317.94 71.72,318.44 72.90,318.86 C74.08,319.27 73.82,319.50 75.00,319.69 C76.19,319.87 78.48,319.55 80.00,319.96 C81.52,320.38 83.04,320.88 84.13,322.18 C85.22,323.47 85.74,324.57 86.54,327.70 C87.35,330.84 88.27,336.37 88.95,340.98 C89.64,345.59 90.10,350.84 90.68,355.36 C91.25,359.87 91.83,364.39 92.40,368.07 C92.97,371.76 93.55,374.89 94.12,377.48 C94.70,380.06 95.16,381.99 95.84,383.56 C96.53,385.12 97.17,386.05 98.26,386.88 C99.35,387.71 100.21,388.07 102.39,388.54 C104.57,389.00 108.19,389.35 111.35,389.64 C114.50,389.94 118.18,390.12 121.34,390.30 C124.50,390.49 126.56,390.60 130.29,390.75 C134.03,390.89 138.05,391.10 143.73,391.19 C149.41,391.28 160.96,391.28 164.40,391.30" stroke="#828282"/>
</g>
<rect x="26.60" y="280.70" width="137.80" height="110.60" fill="none" stroke="#8a8a8a" stroke-width="0.9"/>
<line x1="24.60" y1="391.30" x2="26.60" y2="391.30" stroke="#8a8a8a" stroke-width="0.8"/>
<text x="23.10" y="393.60" class="tk" text-anchor="end">0.0</text>
<line x1="25.60" y1="377.48" x2="26.60" y2="377.48" stroke="#8a8a8a" stroke-width="0.7"/>
<line x1="24.60" y1="363.65" x2="26.60" y2="363.65" stroke="#8a8a8a" stroke-width="0.8"/>
<text x="23.10" y="365.95" class="tk" text-anchor="end">0.5</text>
<line x1="25.60" y1="349.82" x2="26.60" y2="349.82" stroke="#8a8a8a" stroke-width="0.7"/>
<line x1="24.60" y1="336.00" x2="26.60" y2="336.00" stroke="#8a8a8a" stroke-width="0.8"/>
<text x="23.10" y="338.30" class="tk" text-anchor="end">1.0</text>
<line x1="25.60" y1="322.18" x2="26.60" y2="322.18" stroke="#8a8a8a" stroke-width="0.7"/>
<line x1="24.60" y1="308.35" x2="26.60" y2="308.35" stroke="#8a8a8a" stroke-width="0.8"/>
<text x="23.10" y="310.65" class="tk" text-anchor="end">1.5</text>
<line x1="25.60" y1="294.53" x2="26.60" y2="294.53" stroke="#8a8a8a" stroke-width="0.7"/>
<line x1="24.60" y1="280.70" x2="26.60" y2="280.70" stroke="#8a8a8a" stroke-width="0.8"/>
<text x="23.10" y="283.00" class="tk" text-anchor="end">2.0</text>
<line x1="26.60" y1="391.30" x2="26.60" y2="393.10" stroke="#8a8a8a" stroke-width="0.8"/>
<text x="26.75" y="398.90" class="tx" text-anchor="middle">200</text>
<line x1="43.83" y1="391.30" x2="43.83" y2="392.30" stroke="#8a8a8a" stroke-width="0.7"/>
<line x1="61.05" y1="391.30" x2="61.05" y2="393.10" stroke="#8a8a8a" stroke-width="0.8"/>
<text x="61.20" y="398.90" class="tx" text-anchor="middle">300</text>
<line x1="78.28" y1="391.30" x2="78.28" y2="392.30" stroke="#8a8a8a" stroke-width="0.7"/>
<line x1="95.50" y1="391.30" x2="95.50" y2="393.10" stroke="#8a8a8a" stroke-width="0.8"/>
<text x="95.65" y="398.90" class="tx" text-anchor="middle">400</text>
<line x1="112.72" y1="391.30" x2="112.72" y2="392.30" stroke="#8a8a8a" stroke-width="0.7"/>
<line x1="129.95" y1="391.30" x2="129.95" y2="393.10" stroke="#8a8a8a" stroke-width="0.8"/>
<text x="130.10" y="398.90" class="tx" text-anchor="middle">500</text>
<line x1="147.18" y1="391.30" x2="147.18" y2="392.30" stroke="#8a8a8a" stroke-width="0.7"/>
<line x1="164.40" y1="391.30" x2="164.40" y2="393.10" stroke="#8a8a8a" stroke-width="0.8"/>
<text x="164.55" y="398.90" class="tx" text-anchor="middle">600</text>
<text x="95.50" y="407.80" class="al" text-anchor="middle">Wavelength (nm)</text>
<text transform="translate(13.20,336.30) rotate(-90)" class="yl" text-anchor="middle">Abs (a.u.)</text>
<text x="4.00" y="287.00" class="lt">e</text>
<rect x="143.40" y="280.80" width="19.80" height="47.20" fill="#fff" stroke="#999" stroke-width="0.9"/>
<line x1="143.80" y1="284.40" x2="154.30" y2="284.40" stroke="#555555" stroke-width="1.2"/>
<text x="155.60" y="286.10" class="lg">0h</text>
<line x1="143.80" y1="290.14" x2="154.30" y2="290.14" stroke="#3060f0" stroke-width="1.2"/>
<text x="155.60" y="291.84" class="lg">2h</text>
<line x1="143.80" y1="295.88" x2="154.30" y2="295.88" stroke="#e03030" stroke-width="1.2"/>
<text x="155.60" y="297.58" class="lg">6h</text>
<line x1="143.80" y1="301.62" x2="154.30" y2="301.62" stroke="#30a040" stroke-width="1.2"/>
<text x="155.60" y="303.32" class="lg">10h</text>
<line x1="143.80" y1="307.36" x2="154.30" y2="307.36" stroke="#b030e0" stroke-width="1.2"/>
<text x="155.60" y="309.06" class="lg">15h</text>
<line x1="143.80" y1="313.10" x2="154.30" y2="313.10" stroke="#f0e040" stroke-width="1.2"/>
<text x="155.60" y="314.80" class="lg">20h</text>
<line x1="143.80" y1="318.84" x2="154.30" y2="318.84" stroke="#f8a040" stroke-width="1.2"/>
<text x="155.60" y="320.54" class="lg">30h</text>
<line x1="143.80" y1="324.58" x2="154.30" y2="324.58" stroke="#666666" stroke-width="1.2"/>
<text x="155.60" y="326.28" class="lg">50h</text>
<g fill="none" stroke-width="1.3" stroke-linejoin="round" stroke-linecap="round">
<path d="M193.90,297.13 C193.96,296.77 193.73,295.90 194.25,294.97 C194.77,294.05 196.15,291.18 197.02,291.59 C197.88,292.00 198.63,295.01 199.44,297.41 C200.25,299.82 201.21,303.86 201.86,306.01 C202.52,308.15 202.46,309.30 203.39,310.28 C204.31,311.26 206.04,311.28 207.40,311.88 C208.77,312.49 210.17,313.80 211.56,313.88 C212.94,313.96 214.16,312.63 215.71,312.38 C217.27,312.13 219.35,311.69 220.91,312.38 C222.47,313.08 223.65,314.22 225.06,316.54 C226.48,318.86 228.12,323.48 229.39,326.30 C230.66,329.12 231.73,330.83 232.68,333.45 C233.63,336.08 234.15,338.68 235.10,342.05 C236.06,345.42 237.30,350.09 238.39,353.69 C239.49,357.30 240.58,360.90 241.68,363.67 C242.78,366.45 243.64,368.30 245.01,370.33 C246.37,372.36 248.25,374.35 249.89,375.87 C251.53,377.40 252.63,378.00 254.84,379.48 C257.05,380.96 260.38,383.31 263.15,384.75 C265.92,386.18 268.69,387.27 271.46,388.07 C274.23,388.88 276.77,389.15 279.77,389.57 C282.77,389.99 285.31,390.29 289.46,390.57 C293.62,390.85 297.54,391.10 304.70,391.23 C311.86,391.37 327.78,391.37 332.40,391.40" stroke="#5a5a5a"/>
<path d="M193.90,301.57 C193.96,301.16 193.90,299.72 194.25,299.08 C194.59,298.43 195.52,297.87 195.98,297.69 C196.44,297.50 196.29,296.77 197.02,297.97 C197.74,299.17 199.36,302.45 200.31,304.90 C201.25,307.35 201.60,310.63 202.69,312.66 C203.79,314.69 205.37,316.08 206.88,317.10 C208.40,318.11 210.33,319.03 211.80,318.76 C213.27,318.49 214.37,315.67 215.71,315.49 C217.06,315.30 218.48,317.11 219.87,317.65 C221.25,318.20 222.47,317.32 224.02,318.76 C225.58,320.20 227.67,323.66 229.22,326.30 C230.76,328.94 232.32,331.99 233.30,334.62 C234.28,337.24 234.26,338.87 235.10,342.05 C235.95,345.23 237.30,350.09 238.39,353.69 C239.49,357.30 240.58,360.90 241.68,363.67 C242.78,366.45 243.64,368.30 245.01,370.33 C246.37,372.36 247.96,374.03 249.89,375.87 C251.82,377.72 254.36,379.85 256.57,381.42 C258.78,382.99 260.67,384.17 263.15,385.30 C265.63,386.43 268.69,387.46 271.46,388.18 C274.23,388.90 276.77,389.23 279.77,389.63 C282.77,390.02 285.31,390.30 289.46,390.57 C293.62,390.84 297.54,391.10 304.70,391.23 C311.86,391.37 327.78,391.37 332.40,391.40" stroke="#2440f2"/>
<path d="M193.90,309.33 C194.02,308.98 194.19,308.34 194.59,307.23 C195.00,306.12 195.72,302.85 196.32,302.68 C196.92,302.51 197.36,304.26 198.19,306.23 C199.02,308.20 200.28,312.70 201.31,314.49 C202.34,316.28 203.19,316.30 204.39,316.99 C205.59,317.67 207.14,318.24 208.51,318.59 C209.88,318.95 211.22,319.09 212.60,319.09 C213.97,319.09 215.19,318.51 216.75,318.59 C218.31,318.68 220.56,319.07 221.95,319.59 C223.33,320.11 223.85,320.45 225.06,321.70 C226.27,322.95 227.84,324.80 229.22,327.08 C230.59,329.36 232.32,332.81 233.30,335.40 C234.28,337.98 234.26,339.51 235.10,342.60 C235.95,345.70 237.30,350.41 238.39,353.97 C239.49,357.53 240.58,361.18 241.68,363.95 C242.78,366.72 243.64,368.57 245.01,370.61 C246.37,372.64 247.96,374.30 249.89,376.15 C251.82,378.00 254.36,380.13 256.57,381.70 C258.78,383.27 260.67,384.48 263.15,385.58 C265.63,386.68 268.69,387.60 271.46,388.29 C274.23,388.99 276.77,389.35 279.77,389.74 C282.77,390.12 285.31,390.37 289.46,390.62 C293.62,390.87 297.54,391.10 304.70,391.23 C311.86,391.36 327.78,391.37 332.40,391.40" stroke="#e01c1c"/>
<path d="M193.90,312.66 C194.02,312.26 194.22,311.27 194.59,310.28 C194.96,309.29 195.52,306.54 196.12,306.73 C196.72,306.91 197.50,309.08 198.19,311.39 C198.89,313.70 199.44,317.59 200.31,320.59 C201.17,323.59 202.35,327.75 203.39,329.41 C204.42,331.06 205.30,330.68 206.50,330.52 C207.70,330.35 209.23,329.28 210.59,328.41 C211.95,327.54 213.30,326.17 214.68,325.30 C216.05,324.43 217.45,323.63 218.83,323.20 C220.22,322.76 221.83,322.42 222.99,322.70 C224.14,322.97 224.72,323.76 225.75,324.86 C226.79,325.96 227.83,326.99 229.22,329.30 C230.60,331.61 232.54,334.56 234.06,338.72 C235.59,342.88 237.12,350.00 238.39,354.25 C239.66,358.50 240.58,361.46 241.68,364.23 C242.78,367.00 243.64,368.80 245.01,370.88 C246.37,372.96 247.96,374.81 249.89,376.71 C251.82,378.60 254.36,380.73 256.57,382.25 C258.78,383.78 260.67,384.81 263.15,385.85 C265.63,386.90 268.69,387.85 271.46,388.52 C274.23,389.18 276.77,389.48 279.77,389.85 C282.77,390.22 285.31,390.49 289.46,390.73 C293.62,390.97 297.54,391.18 304.70,391.29 C311.86,391.40 327.78,391.38 332.40,391.40" stroke="#20a82a"/>
<path d="M193.90,325.41 C194.02,325.13 194.07,324.58 194.59,323.70 C195.11,322.81 196.24,320.09 197.02,320.09 C197.79,320.09 198.35,322.06 199.23,323.70 C200.12,325.33 201.29,328.52 202.31,329.91 C203.34,331.29 204.18,331.91 205.40,332.01 C206.61,332.11 208.20,331.20 209.59,330.52 C210.97,329.83 212.34,328.70 213.71,327.91 C215.07,327.12 216.42,326.07 217.79,325.80 C219.16,325.53 220.46,325.93 221.95,326.30 C223.43,326.67 225.07,326.60 226.69,328.02 C228.31,329.44 230.24,332.60 231.64,334.84 C233.04,337.09 233.98,338.45 235.10,341.50 C236.23,344.54 237.30,349.54 238.39,353.14 C239.49,356.74 240.58,360.35 241.68,363.12 C242.78,365.89 243.62,367.83 245.01,369.77 C246.39,371.72 248.07,372.82 249.99,374.76 C251.92,376.71 254.38,379.63 256.57,381.42 C258.76,383.21 260.67,384.38 263.15,385.52 C265.63,386.67 268.69,387.61 271.46,388.29 C274.23,388.98 276.77,389.25 279.77,389.63 C282.77,390.00 285.31,390.30 289.46,390.57 C293.62,390.84 297.54,391.10 304.70,391.23 C311.86,391.37 327.78,391.37 332.40,391.40" stroke="#a818e0"/>
<path d="M193.90,329.85 C194.02,329.53 194.22,328.75 194.59,327.91 C194.96,327.07 195.52,324.64 196.12,324.80 C196.72,324.97 197.41,327.02 198.19,328.91 C198.98,330.79 199.96,334.14 200.83,336.12 C201.69,338.09 202.44,339.56 203.39,340.77 C204.33,341.98 205.47,343.30 206.50,343.38 C207.54,343.46 208.57,342.48 209.59,341.27 C210.60,340.06 211.58,338.34 212.60,336.12 C213.62,333.89 214.85,329.80 215.71,327.91 C216.58,326.02 216.93,325.24 217.79,324.80 C218.66,324.37 219.70,324.79 220.91,325.30 C222.12,325.82 223.79,326.87 225.06,327.91 C226.33,328.94 227.43,330.17 228.53,331.51 C229.62,332.85 230.54,333.92 231.64,335.95 C232.74,337.98 233.98,340.48 235.10,343.71 C236.23,346.95 237.30,351.66 238.39,355.36 C239.49,359.05 240.58,362.94 241.68,365.89 C242.78,368.85 243.62,370.65 245.01,373.10 C246.39,375.55 248.07,378.65 249.99,380.59 C251.92,382.53 254.38,383.59 256.57,384.75 C258.76,385.90 260.67,386.78 263.15,387.52 C265.63,388.26 268.69,388.72 271.46,389.18 C274.23,389.64 276.77,390.00 279.77,390.29 C282.77,390.59 285.31,390.78 289.46,390.96 C293.62,391.13 297.54,391.27 304.70,391.34 C311.86,391.42 327.78,391.39 332.40,391.40" stroke="#ece828"/>
<path d="M193.90,338.72 C194.02,338.47 194.07,338.08 194.59,337.23 C195.11,336.38 196.06,333.62 197.02,333.62 C197.97,333.62 199.08,335.86 200.31,337.23 C201.53,338.59 203.02,341.50 204.39,341.83 C205.76,342.16 207.14,340.69 208.51,339.22 C209.88,337.75 211.30,335.08 212.60,333.01 C213.90,330.94 215.26,328.25 216.30,326.80 C217.34,325.35 217.89,324.63 218.83,324.31 C219.77,323.98 220.73,324.26 221.95,324.86 C223.16,325.46 224.83,326.62 226.10,327.91 C227.37,329.20 228.55,331.28 229.56,332.62 C230.57,333.96 231.24,334.19 232.16,335.95 C233.08,337.71 234.06,340.02 235.10,343.16 C236.14,346.30 237.30,351.20 238.39,354.80 C239.49,358.41 240.58,362.01 241.68,364.78 C242.78,367.56 243.64,369.31 245.01,371.44 C246.37,373.56 247.96,375.69 249.89,377.54 C251.82,379.39 254.36,381.10 256.57,382.53 C258.78,383.96 260.67,385.12 263.15,386.13 C265.63,387.15 268.69,387.99 271.46,388.63 C274.23,389.27 276.77,389.60 279.77,389.96 C282.77,390.32 285.31,390.57 289.46,390.79 C293.62,391.01 297.54,391.19 304.70,391.29 C311.86,391.39 327.78,391.38 332.40,391.40" stroke="#f58a1c"/>
<path d="M193.90,340.39 C194.02,340.11 194.22,339.52 194.59,338.72 C194.96,337.93 195.16,335.19 196.12,335.62 C197.07,336.04 198.93,339.55 200.31,341.27 C201.68,342.99 203.21,345.25 204.39,345.93 C205.57,346.61 206.21,346.49 207.40,345.38 C208.60,344.26 210.35,341.80 211.56,339.22 C212.77,336.64 213.81,332.06 214.68,329.91 C215.54,327.75 215.97,326.82 216.75,326.30 C217.54,325.78 218.35,325.85 219.38,326.80 C220.42,327.75 222.00,330.17 222.99,332.01 C223.97,333.85 224.24,335.50 225.30,337.84 C226.37,340.17 228.02,343.58 229.39,346.04 C230.76,348.50 232.27,350.14 233.51,352.58 C234.75,355.03 235.76,357.73 236.84,360.74 C237.91,363.74 238.87,367.33 239.95,370.61 C241.03,373.89 242.21,377.56 243.31,380.42 C244.41,383.29 245.19,386.22 246.53,387.80 C247.87,389.38 249.07,389.41 251.38,389.90 C253.69,390.39 255.53,390.53 260.38,390.73 C265.23,390.94 268.46,391.01 280.46,391.12 C292.47,391.23 323.74,391.35 332.40,391.40" stroke="#828282"/>
</g>
<rect x="193.90" y="280.50" width="138.50" height="110.90" fill="none" stroke="#8a8a8a" stroke-width="0.9"/>
<line x1="191.90" y1="391.40" x2="193.90" y2="391.40" stroke="#8a8a8a" stroke-width="0.8"/>
<text x="190.90" y="393.70" class="tk" text-anchor="end">0.0</text>
<line x1="192.90" y1="385.85" x2="193.90" y2="385.85" stroke="#8a8a8a" stroke-width="0.7"/>
<line x1="191.90" y1="380.31" x2="193.90" y2="380.31" stroke="#8a8a8a" stroke-width="0.8"/>
<text x="190.90" y="382.61" class="tk" text-anchor="end">0.2</text>
<line x1="192.90" y1="374.76" x2="193.90" y2="374.76" stroke="#8a8a8a" stroke-width="0.7"/>
<line x1="191.90" y1="369.22" x2="193.90" y2="369.22" stroke="#8a8a8a" stroke-width="0.8"/>
<text x="190.90" y="371.52" class="tk" text-anchor="end">0.4</text>
<line x1="192.90" y1="363.67" x2="193.90" y2="363.67" stroke="#8a8a8a" stroke-width="0.7"/>
<line x1="191.90" y1="358.13" x2="193.90" y2="358.13" stroke="#8a8a8a" stroke-width="0.8"/>
<text x="190.90" y="360.43" class="tk" text-anchor="end">0.6</text>
<line x1="192.90" y1="352.58" x2="193.90" y2="352.58" stroke="#8a8a8a" stroke-width="0.7"/>
<line x1="191.90" y1="347.04" x2="193.90" y2="347.04" stroke="#8a8a8a" stroke-width="0.8"/>
<text x="190.90" y="349.34" class="tk" text-anchor="end">0.8</text>
<line x1="192.90" y1="341.49" x2="193.90" y2="341.49" stroke="#8a8a8a" stroke-width="0.7"/>
<line x1="191.90" y1="335.95" x2="193.90" y2="335.95" stroke="#8a8a8a" stroke-width="0.8"/>
<text x="190.90" y="338.25" class="tk" text-anchor="end">1.0</text>
<line x1="192.90" y1="330.40" x2="193.90" y2="330.40" stroke="#8a8a8a" stroke-width="0.7"/>
<line x1="191.90" y1="324.86" x2="193.90" y2="324.86" stroke="#8a8a8a" stroke-width="0.8"/>
<text x="190.90" y="327.16" class="tk" text-anchor="end">1.2</text>
<line x1="192.90" y1="319.31" x2="193.90" y2="319.31" stroke="#8a8a8a" stroke-width="0.7"/>
<line x1="191.90" y1="313.77" x2="193.90" y2="313.77" stroke="#8a8a8a" stroke-width="0.8"/>
<text x="190.90" y="316.07" class="tk" text-anchor="end">1.4</text>
<line x1="192.90" y1="308.22" x2="193.90" y2="308.22" stroke="#8a8a8a" stroke-width="0.7"/>
<line x1="191.90" y1="302.68" x2="193.90" y2="302.68" stroke="#8a8a8a" stroke-width="0.8"/>
<text x="190.90" y="304.98" class="tk" text-anchor="end">1.6</text>
<line x1="192.90" y1="297.13" x2="193.90" y2="297.13" stroke="#8a8a8a" stroke-width="0.7"/>
<line x1="191.90" y1="291.59" x2="193.90" y2="291.59" stroke="#8a8a8a" stroke-width="0.8"/>
<text x="190.90" y="293.89" class="tk" text-anchor="end">1.8</text>
<line x1="192.90" y1="286.04" x2="193.90" y2="286.04" stroke="#8a8a8a" stroke-width="0.7"/>
<line x1="191.90" y1="280.50" x2="193.90" y2="280.50" stroke="#8a8a8a" stroke-width="0.8"/>
<text x="190.90" y="282.80" class="tk" text-anchor="end">2.0</text>
<line x1="193.90" y1="391.40" x2="193.90" y2="393.20" stroke="#8a8a8a" stroke-width="0.8"/>
<text x="194.05" y="399.00" class="tx" text-anchor="middle">200</text>
<line x1="211.21" y1="391.40" x2="211.21" y2="392.40" stroke="#8a8a8a" stroke-width="0.7"/>
<line x1="228.53" y1="391.40" x2="228.53" y2="393.20" stroke="#8a8a8a" stroke-width="0.8"/>
<text x="228.68" y="399.00" class="tx" text-anchor="middle">300</text>
<line x1="245.84" y1="391.40" x2="245.84" y2="392.40" stroke="#8a8a8a" stroke-width="0.7"/>
<line x1="263.15" y1="391.40" x2="263.15" y2="393.20" stroke="#8a8a8a" stroke-width="0.8"/>
<text x="263.30" y="399.00" class="tx" text-anchor="middle">400</text>
<line x1="280.46" y1="391.40" x2="280.46" y2="392.40" stroke="#8a8a8a" stroke-width="0.7"/>
<line x1="297.77" y1="391.40" x2="297.77" y2="393.20" stroke="#8a8a8a" stroke-width="0.8"/>
<text x="297.92" y="399.00" class="tx" text-anchor="middle">500</text>
<line x1="315.09" y1="391.40" x2="315.09" y2="392.40" stroke="#8a8a8a" stroke-width="0.7"/>
<line x1="332.40" y1="391.40" x2="332.40" y2="393.20" stroke="#8a8a8a" stroke-width="0.8"/>
<text x="332.55" y="399.00" class="tx" text-anchor="middle">600</text>
<text x="263.15" y="407.90" class="al" text-anchor="middle">Wavelength (nm)</text>
<text transform="translate(180.50,335.70) rotate(-90)" class="yl" text-anchor="middle">Abs (a.u.)</text>
<text x="171.50" y="286.50" class="lt">f</text>
<rect x="311.40" y="280.60" width="19.80" height="47.20" fill="#fff" stroke="#999" stroke-width="0.9"/>
<line x1="311.80" y1="284.20" x2="322.30" y2="284.20" stroke="#555555" stroke-width="1.2"/>
<text x="323.60" y="285.90" class="lg">0h</text>
<line x1="311.80" y1="289.94" x2="322.30" y2="289.94" stroke="#3060f0" stroke-width="1.2"/>
<text x="323.60" y="291.64" class="lg">2h</text>
<line x1="311.80" y1="295.68" x2="322.30" y2="295.68" stroke="#e03030" stroke-width="1.2"/>
<text x="323.60" y="297.38" class="lg">6h</text>
<line x1="311.80" y1="301.42" x2="322.30" y2="301.42" stroke="#30a040" stroke-width="1.2"/>
<text x="323.60" y="303.12" class="lg">10h</text>
<line x1="311.80" y1="307.16" x2="322.30" y2="307.16" stroke="#b030e0" stroke-width="1.2"/>
<text x="323.60" y="308.86" class="lg">15h</text>
<line x1="311.80" y1="312.90" x2="322.30" y2="312.90" stroke="#f0e040" stroke-width="1.2"/>
<text x="323.60" y="314.60" class="lg">20h</text>
<line x1="311.80" y1="318.64" x2="322.30" y2="318.64" stroke="#f8a040" stroke-width="1.2"/>
<text x="323.60" y="320.34" class="lg">30h</text>
<line x1="311.80" y1="324.38" x2="322.30" y2="324.38" stroke="#666666" stroke-width="1.2"/>
<text x="323.60" y="326.08" class="lg">50h</text>
<g fill="none" stroke-width="1.3" stroke-linejoin="round" stroke-linecap="round">
<path d="M105.70,442.30 C105.76,442.03 105.49,441.39 106.04,440.67 C106.59,439.94 107.80,437.52 108.98,437.94 C110.16,438.36 111.74,440.78 113.11,443.17 C114.48,445.56 115.85,451.46 117.21,452.27 C118.57,453.09 120.17,448.49 121.27,448.08 C122.37,447.67 123.02,448.79 123.81,449.82 C124.60,450.86 125.26,452.67 126.01,454.29 C126.76,455.91 127.43,460.27 128.31,459.52 C129.19,458.78 130.24,453.37 131.29,449.82 C132.34,446.27 133.46,440.78 134.61,438.21 C135.76,435.64 137.11,434.62 138.20,434.40 C139.28,434.17 140.07,436.21 141.11,436.85 C142.14,437.49 143.43,438.08 144.39,438.21 C145.36,438.35 145.93,437.53 146.90,437.67 C147.87,437.80 149.25,438.17 150.21,439.03 C151.18,439.89 152.00,441.21 152.68,442.85 C153.37,444.48 153.79,446.48 154.31,448.84 C154.83,451.20 155.32,453.75 155.80,457.01 C156.27,460.28 156.53,464.55 157.15,468.46 C157.77,472.37 158.73,476.63 159.52,480.45 C160.31,484.26 161.14,487.54 161.89,491.35 C162.64,495.17 163.21,499.98 164.02,503.34 C164.84,506.70 165.72,509.20 166.80,511.51 C167.88,513.83 169.11,515.65 170.49,517.24 C171.87,518.83 173.54,520.01 175.09,521.05 C176.65,522.10 178.08,522.73 179.83,523.50 C181.58,524.28 182.88,524.91 185.59,525.68 C188.29,526.46 191.96,527.55 196.08,528.14 C200.20,528.73 205.61,529.00 210.30,529.23 C214.98,529.45 219.04,529.45 224.18,529.50 C229.31,529.55 238.28,529.50 241.10,529.50" stroke="#5a5a5a"/>
<path d="M105.70,444.48 C105.76,444.26 105.49,443.81 106.04,443.17 C106.59,442.54 107.80,440.42 108.98,440.67 C110.16,440.91 111.74,442.44 113.11,444.64 C114.48,446.85 115.85,453.03 117.21,453.91 C118.57,454.79 120.17,450.23 121.27,449.93 C122.37,449.63 123.02,450.20 123.81,452.11 C124.60,454.02 125.26,458.08 126.01,461.38 C126.76,464.67 127.43,472.80 128.31,471.89 C129.19,470.99 130.39,460.84 131.29,455.93 C132.19,451.01 132.96,445.63 133.69,442.41 C134.43,439.18 134.94,437.75 135.69,436.58 C136.44,435.41 137.29,435.31 138.20,435.38 C139.10,435.45 140.07,436.52 141.11,437.01 C142.14,437.50 143.43,438.26 144.39,438.32 C145.36,438.39 145.93,437.33 146.90,437.39 C147.87,437.46 149.41,438.16 150.21,438.70 C151.02,439.25 151.15,439.31 151.74,440.67 C152.32,442.02 153.09,444.23 153.70,446.82 C154.31,449.41 154.82,452.66 155.39,456.20 C155.97,459.73 156.46,464.09 157.15,468.02 C157.84,471.96 158.73,476.06 159.52,479.80 C160.31,483.53 161.14,486.54 161.89,490.42 C162.64,494.31 163.21,499.61 164.02,503.12 C164.84,506.64 165.72,509.20 166.80,511.51 C167.88,513.83 169.11,515.48 170.49,517.02 C171.87,518.55 173.54,519.71 175.09,520.73 C176.65,521.74 178.08,522.34 179.83,523.12 C181.58,523.90 182.88,524.58 185.59,525.41 C188.29,526.25 191.96,527.50 196.08,528.14 C200.20,528.77 205.61,529.00 210.30,529.23 C214.98,529.45 219.04,529.45 224.18,529.50 C229.31,529.55 238.28,529.50 241.10,529.50" stroke="#2440f2"/>
<path d="M105.70,447.75 C105.76,447.57 105.49,447.11 106.04,446.66 C106.59,446.21 107.80,444.57 108.98,445.02 C110.16,445.48 111.74,447.66 113.11,449.38 C114.48,451.11 115.85,455.56 117.21,455.38 C118.57,455.20 120.17,448.93 121.27,448.30 C122.37,447.66 123.02,449.38 123.81,451.56 C124.60,453.75 125.26,458.25 126.01,461.38 C126.76,464.50 127.43,471.22 128.31,470.31 C129.19,469.40 130.21,460.59 131.29,455.93 C132.37,451.26 133.80,444.97 134.81,442.30 C135.83,439.63 136.48,439.81 137.38,439.90 C138.29,439.99 139.34,442.08 140.23,442.85 C141.11,443.61 141.87,444.13 142.70,444.48 C143.53,444.83 144.37,444.73 145.20,444.92 C146.03,445.10 146.75,445.01 147.67,445.57 C148.59,446.13 149.72,446.66 150.72,448.30 C151.72,449.93 152.82,452.11 153.70,455.38 C154.58,458.65 155.40,463.74 156.00,467.92 C156.60,472.09 156.90,476.45 157.32,480.45 C157.74,484.45 158.08,488.53 158.51,491.89 C158.93,495.26 159.30,497.71 159.86,500.62 C160.42,503.52 161.20,506.79 161.89,509.33 C162.58,511.88 163.06,513.79 164.02,515.88 C164.98,517.96 166.08,520.37 167.65,521.87 C169.21,523.37 170.92,524.00 173.40,524.87 C175.88,525.73 178.76,526.41 182.54,527.05 C186.32,527.68 191.45,528.31 196.08,528.68 C200.71,529.05 205.61,529.15 210.30,529.28 C214.98,529.42 219.04,529.46 224.18,529.50 C229.31,529.54 238.28,529.50 241.10,529.50" stroke="#e01c1c"/>
<path d="M105.70,446.12 C105.76,445.93 105.49,445.66 106.04,445.02 C106.59,444.39 107.80,441.94 108.98,442.30 C110.16,442.66 111.74,444.57 113.11,447.20 C114.48,449.84 115.85,457.29 117.21,458.11 C118.57,458.92 120.17,452.66 121.27,452.11 C122.37,451.56 123.02,453.02 123.81,454.83 C124.60,456.65 125.26,460.83 126.01,463.01 C126.76,465.19 127.43,468.91 128.31,467.92 C129.19,466.92 130.39,460.43 131.29,457.01 C132.19,453.60 132.68,450.21 133.69,447.42 C134.71,444.63 136.29,440.77 137.38,440.28 C138.47,439.79 139.19,443.51 140.23,444.48 C141.27,445.45 142.57,445.92 143.61,446.12 C144.66,446.31 145.30,445.36 146.49,445.68 C147.67,446.00 149.52,446.47 150.72,448.02 C151.92,449.58 152.82,451.66 153.70,455.00 C154.58,458.33 155.43,463.89 156.00,468.02 C156.58,472.16 156.75,475.86 157.15,479.80 C157.55,483.73 158.01,488.43 158.40,491.62 C158.80,494.82 159.04,495.82 159.52,498.98 C160.01,502.14 160.57,507.12 161.32,510.59 C162.07,514.06 162.96,517.33 164.02,519.80 C165.09,522.27 166.15,524.16 167.71,525.41 C169.28,526.67 170.93,526.82 173.40,527.32 C175.87,527.82 178.76,528.10 182.54,528.41 C186.32,528.72 190.83,528.99 196.08,529.17 C201.33,529.35 206.52,529.45 214.02,529.50 C221.52,529.55 236.59,529.50 241.10,529.50" stroke="#20a82a"/>
<path d="M105.70,449.38 C105.76,449.20 105.64,448.75 106.04,448.30 C106.43,447.84 106.89,446.02 108.07,446.66 C109.25,447.30 111.59,450.20 113.11,452.11 C114.64,454.02 115.85,458.11 117.21,458.11 C118.57,458.11 120.17,452.56 121.27,452.11 C122.37,451.66 123.02,453.56 123.81,455.38 C124.60,457.20 125.26,460.69 126.01,463.01 C126.76,465.33 127.43,470.10 128.31,469.28 C129.19,468.46 130.39,460.42 131.29,458.11 C132.19,455.79 132.60,456.90 133.69,455.38 C134.79,453.86 136.49,449.78 137.86,449.00 C139.23,448.22 140.57,450.27 141.92,450.69 C143.27,451.12 144.70,451.24 145.98,451.56 C147.27,451.89 148.45,451.47 149.64,452.65 C150.82,453.84 152.13,456.09 153.09,458.65 C154.05,461.21 154.60,464.10 155.39,468.02 C156.18,471.95 157.08,477.40 157.83,482.19 C158.57,486.99 159.18,493.00 159.86,496.80 C160.54,500.60 161.20,502.52 161.89,504.98 C162.58,507.43 163.06,509.24 164.02,511.51 C164.98,513.79 166.08,516.78 167.65,518.60 C169.21,520.42 171.37,521.42 173.40,522.41 C175.43,523.41 177.80,523.96 179.83,524.60 C181.86,525.23 182.88,525.59 185.59,526.23 C188.29,526.87 191.96,527.91 196.08,528.41 C200.20,528.91 205.61,529.05 210.30,529.23 C214.98,529.41 219.04,529.45 224.18,529.50 C229.31,529.55 238.28,529.50 241.10,529.50" stroke="#a818e0"/>
<path d="M105.70,451.56 C105.76,451.40 105.64,451.02 106.04,450.58 C106.43,450.15 106.89,448.15 108.07,448.95 C109.25,449.75 111.59,453.49 113.11,455.38 C114.64,457.27 115.85,460.42 117.21,460.28 C118.57,460.15 120.17,455.11 121.27,454.56 C122.37,454.02 123.02,455.43 123.81,457.01 C124.60,458.60 125.26,462.28 126.01,464.10 C126.76,465.92 127.30,468.91 128.31,467.92 C129.33,466.92 130.96,460.92 132.10,458.11 C133.24,455.29 134.19,452.65 135.15,451.02 C136.11,449.38 136.86,448.35 137.86,448.30 C138.85,448.24 140.02,450.02 141.11,450.69 C142.20,451.37 143.30,451.91 144.39,452.33 C145.49,452.75 146.68,452.60 147.67,453.20 C148.67,453.80 149.48,454.47 150.38,455.93 C151.28,457.38 152.26,459.20 153.09,461.92 C153.92,464.64 154.71,468.55 155.39,472.27 C156.07,476.00 156.46,479.66 157.15,484.26 C157.84,488.87 158.73,495.64 159.52,499.91 C160.31,504.18 161.14,507.13 161.89,509.88 C162.64,512.63 163.06,514.42 164.02,516.42 C164.98,518.42 166.08,520.42 167.65,521.87 C169.21,523.32 171.37,524.37 173.40,525.14 C175.43,525.91 177.80,526.14 179.83,526.50 C181.86,526.87 182.88,526.93 185.59,527.32 C188.29,527.71 191.96,528.51 196.08,528.85 C200.20,529.18 205.61,529.23 210.30,529.34 C214.98,529.45 219.04,529.47 224.18,529.50 C229.31,529.53 238.28,529.50 241.10,529.50" stroke="#ece828"/>
<path d="M105.70,463.56 C105.76,463.33 105.49,462.70 106.04,462.19 C106.59,461.68 107.80,460.09 108.98,460.50 C110.16,460.91 111.74,463.26 113.11,464.64 C114.48,466.03 115.74,468.48 117.21,468.79 C118.68,469.10 120.81,466.64 121.91,466.50 C123.01,466.35 123.13,466.50 123.81,467.92 C124.49,469.33 125.26,472.68 126.01,475.00 C126.76,477.32 127.58,482.72 128.31,481.81 C129.05,480.90 129.68,472.64 130.41,469.55 C131.14,466.46 131.75,465.05 132.71,463.28 C133.67,461.51 134.91,459.69 136.16,458.92 C137.42,458.15 138.59,458.51 140.23,458.65 C141.86,458.79 144.53,459.56 145.98,459.74 C147.43,459.92 147.85,458.92 148.93,459.74 C150.00,460.56 151.34,462.56 152.41,464.64 C153.49,466.73 154.49,468.82 155.39,472.27 C156.29,475.73 157.08,480.90 157.83,485.36 C158.57,489.81 159.18,495.07 159.86,498.98 C160.54,502.89 161.20,506.06 161.89,508.79 C162.58,511.52 163.06,513.33 164.02,515.33 C164.98,517.33 166.59,519.60 167.65,520.78 C168.70,521.96 169.11,521.78 170.35,522.41 C171.59,523.05 173.46,523.96 175.09,524.60 C176.73,525.23 178.42,525.78 180.17,526.23 C181.92,526.68 182.93,526.89 185.59,527.32 C188.24,527.75 191.96,528.46 196.08,528.79 C200.20,529.12 205.61,529.16 210.30,529.28 C214.98,529.40 219.04,529.46 224.18,529.50 C229.31,529.54 238.28,529.50 241.10,529.50" stroke="#f58a1c"/>
<path d="M105.70,475.55 C105.76,475.39 105.49,475.05 106.04,474.62 C106.59,474.19 107.80,472.58 108.98,472.98 C110.16,473.38 111.74,476.34 113.11,477.02 C114.48,477.69 116.08,477.26 117.21,477.02 C118.34,476.77 119.04,476.34 119.92,475.55 C120.80,474.75 121.70,472.64 122.49,472.27 C123.28,471.91 124.01,472.73 124.66,473.37 C125.30,474.00 125.74,475.22 126.35,476.09 C126.96,476.96 127.52,479.23 128.31,478.60 C129.10,477.96 129.93,474.29 131.09,472.27 C132.25,470.26 133.82,467.63 135.28,466.50 C136.75,465.36 138.11,465.50 139.89,465.46 C141.67,465.43 144.18,465.75 145.98,466.28 C147.79,466.81 149.33,467.53 150.72,468.62 C152.11,469.71 153.33,470.56 154.31,472.82 C155.29,475.08 155.93,479.06 156.61,482.19 C157.29,485.33 157.86,488.67 158.40,491.62 C158.95,494.57 159.28,497.23 159.86,499.91 C160.44,502.59 161.20,505.31 161.89,507.70 C162.58,510.09 163.06,512.24 164.02,514.24 C164.98,516.24 165.80,518.24 167.65,519.69 C169.49,521.14 173.01,522.05 175.09,522.96 C177.18,523.87 178.42,524.50 180.17,525.14 C181.92,525.78 182.93,526.18 185.59,526.77 C188.24,527.37 191.96,528.26 196.08,528.68 C200.20,529.10 205.61,529.15 210.30,529.28 C214.98,529.42 219.04,529.46 224.18,529.50 C229.31,529.54 238.28,529.50 241.10,529.50" stroke="#828282"/>
</g>
<rect x="105.70" y="420.50" width="135.40" height="109.00" fill="none" stroke="#8a8a8a" stroke-width="0.9"/>
<line x1="103.70" y1="529.50" x2="105.70" y2="529.50" stroke="#8a8a8a" stroke-width="0.8"/>
<text x="103.10" y="531.80" class="tk" text-anchor="end">0.0</text>
<line x1="104.70" y1="524.05" x2="105.70" y2="524.05" stroke="#8a8a8a" stroke-width="0.7"/>
<line x1="103.70" y1="518.60" x2="105.70" y2="518.60" stroke="#8a8a8a" stroke-width="0.8"/>
<text x="103.10" y="520.90" class="tk" text-anchor="end">0.2</text>
<line x1="104.70" y1="513.15" x2="105.70" y2="513.15" stroke="#8a8a8a" stroke-width="0.7"/>
<line x1="103.70" y1="507.70" x2="105.70" y2="507.70" stroke="#8a8a8a" stroke-width="0.8"/>
<text x="103.10" y="510.00" class="tk" text-anchor="end">0.4</text>
<line x1="104.70" y1="502.25" x2="105.70" y2="502.25" stroke="#8a8a8a" stroke-width="0.7"/>
<line x1="103.70" y1="496.80" x2="105.70" y2="496.80" stroke="#8a8a8a" stroke-width="0.8"/>
<text x="103.10" y="499.10" class="tk" text-anchor="end">0.6</text>
<line x1="104.70" y1="491.35" x2="105.70" y2="491.35" stroke="#8a8a8a" stroke-width="0.7"/>
<line x1="103.70" y1="485.90" x2="105.70" y2="485.90" stroke="#8a8a8a" stroke-width="0.8"/>
<text x="103.10" y="488.20" class="tk" text-anchor="end">0.8</text>
<line x1="104.70" y1="480.45" x2="105.70" y2="480.45" stroke="#8a8a8a" stroke-width="0.7"/>
<line x1="103.70" y1="475.00" x2="105.70" y2="475.00" stroke="#8a8a8a" stroke-width="0.8"/>
<text x="103.10" y="477.30" class="tk" text-anchor="end">1.0</text>
<line x1="104.70" y1="469.55" x2="105.70" y2="469.55" stroke="#8a8a8a" stroke-width="0.7"/>
<line x1="103.70" y1="464.10" x2="105.70" y2="464.10" stroke="#8a8a8a" stroke-width="0.8"/>
<text x="103.10" y="466.40" class="tk" text-anchor="end">1.2</text>
<line x1="104.70" y1="458.65" x2="105.70" y2="458.65" stroke="#8a8a8a" stroke-width="0.7"/>
<line x1="103.70" y1="453.20" x2="105.70" y2="453.20" stroke="#8a8a8a" stroke-width="0.8"/>
<text x="103.10" y="455.50" class="tk" text-anchor="end">1.4</text>
<line x1="104.70" y1="447.75" x2="105.70" y2="447.75" stroke="#8a8a8a" stroke-width="0.7"/>
<line x1="103.70" y1="442.30" x2="105.70" y2="442.30" stroke="#8a8a8a" stroke-width="0.8"/>
<text x="103.10" y="444.60" class="tk" text-anchor="end">1.6</text>
<line x1="104.70" y1="436.85" x2="105.70" y2="436.85" stroke="#8a8a8a" stroke-width="0.7"/>
<line x1="103.70" y1="431.40" x2="105.70" y2="431.40" stroke="#8a8a8a" stroke-width="0.8"/>
<text x="103.10" y="433.70" class="tk" text-anchor="end">1.8</text>
<line x1="104.70" y1="425.95" x2="105.70" y2="425.95" stroke="#8a8a8a" stroke-width="0.7"/>
<line x1="103.70" y1="420.50" x2="105.70" y2="420.50" stroke="#8a8a8a" stroke-width="0.8"/>
<text x="103.10" y="422.80" class="tk" text-anchor="end">2.0</text>
<line x1="105.70" y1="529.50" x2="105.70" y2="531.30" stroke="#8a8a8a" stroke-width="0.8"/>
<text x="105.85" y="537.10" class="tx" text-anchor="middle">200</text>
<line x1="122.62" y1="529.50" x2="122.62" y2="530.50" stroke="#8a8a8a" stroke-width="0.7"/>
<line x1="139.55" y1="529.50" x2="139.55" y2="531.30" stroke="#8a8a8a" stroke-width="0.8"/>
<text x="139.70" y="537.10" class="tx" text-anchor="middle">300</text>
<line x1="156.48" y1="529.50" x2="156.48" y2="530.50" stroke="#8a8a8a" stroke-width="0.7"/>
<line x1="173.40" y1="529.50" x2="173.40" y2="531.30" stroke="#8a8a8a" stroke-width="0.8"/>
<text x="173.55" y="537.10" class="tx" text-anchor="middle">400</text>
<line x1="190.32" y1="529.50" x2="190.32" y2="530.50" stroke="#8a8a8a" stroke-width="0.7"/>
<line x1="207.25" y1="529.50" x2="207.25" y2="531.30" stroke="#8a8a8a" stroke-width="0.8"/>
<text x="207.40" y="537.10" class="tx" text-anchor="middle">500</text>
<line x1="224.18" y1="529.50" x2="224.18" y2="530.50" stroke="#8a8a8a" stroke-width="0.7"/>
<line x1="241.10" y1="529.50" x2="241.10" y2="531.30" stroke="#8a8a8a" stroke-width="0.8"/>
<text x="241.25" y="537.10" class="tx" text-anchor="middle">600</text>
<text x="173.40" y="546.00" class="al" text-anchor="middle">Wavelength (nm)</text>
<text transform="translate(92.40,474.60) rotate(-90)" class="yl" text-anchor="middle">Abs (a.u.)</text>
<text x="83.50" y="426.20" class="lt">g</text>
<rect x="220.10" y="420.60" width="19.80" height="47.20" fill="#fff" stroke="#999" stroke-width="0.9"/>
<line x1="220.50" y1="424.20" x2="231.00" y2="424.20" stroke="#555555" stroke-width="1.2"/>
<text x="232.30" y="425.90" class="lg">0h</text>
<line x1="220.50" y1="429.94" x2="231.00" y2="429.94" stroke="#3060f0" stroke-width="1.2"/>
<text x="232.30" y="431.64" class="lg">2h</text>
<line x1="220.50" y1="435.68" x2="231.00" y2="435.68" stroke="#e03030" stroke-width="1.2"/>
<text x="232.30" y="437.38" class="lg">6h</text>
<line x1="220.50" y1="441.42" x2="231.00" y2="441.42" stroke="#30a040" stroke-width="1.2"/>
<text x="232.30" y="443.12" class="lg">10h</text>
<line x1="220.50" y1="447.16" x2="231.00" y2="447.16" stroke="#b030e0" stroke-width="1.2"/>
<text x="232.30" y="448.86" class="lg">15h</text>
<line x1="220.50" y1="452.90" x2="231.00" y2="452.90" stroke="#f0e040" stroke-width="1.2"/>
<text x="232.30" y="454.60" class="lg">20h</text>
<line x1="220.50" y1="458.64" x2="231.00" y2="458.64" stroke="#f8a040" stroke-width="1.2"/>
<text x="232.30" y="460.34" class="lg">30h</text>
<line x1="220.50" y1="464.38" x2="231.00" y2="464.38" stroke="#666666" stroke-width="1.2"/>
<text x="232.30" y="466.08" class="lg">50h</text>
</svg></body></html>
